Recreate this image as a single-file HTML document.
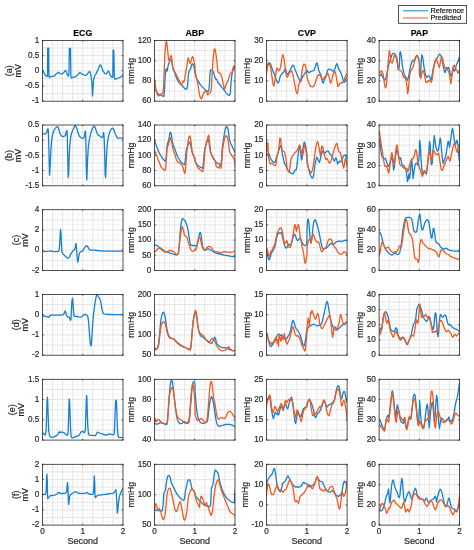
<!DOCTYPE html>
<html><head><meta charset="utf-8"><style>
html,body{margin:0;padding:0;background:#fff;}
svg{display:block;}
</style></head><body>
<svg width="474" height="550" viewBox="0 0 474 550" font-family='"Liberation Sans", Arial, Helvetica, sans-serif'>
<rect width="474" height="550" fill="#fff"/>
<defs><clipPath id="ca0"><rect x="42.5" y="40.40" width="80.5" height="60.8"/></clipPath><clipPath id="ca1"><rect x="154.5" y="40.40" width="80.5" height="60.8"/></clipPath><clipPath id="ca2"><rect x="266.6" y="40.40" width="80.5" height="60.8"/></clipPath><clipPath id="ca3"><rect x="379.1" y="40.40" width="80.5" height="60.8"/></clipPath><clipPath id="cb0"><rect x="42.5" y="125.00" width="80.5" height="60.8"/></clipPath><clipPath id="cb1"><rect x="154.5" y="125.00" width="80.5" height="60.8"/></clipPath><clipPath id="cb2"><rect x="266.6" y="125.00" width="80.5" height="60.8"/></clipPath><clipPath id="cb3"><rect x="379.1" y="125.00" width="80.5" height="60.8"/></clipPath><clipPath id="cc0"><rect x="42.5" y="209.70" width="80.5" height="60.8"/></clipPath><clipPath id="cc1"><rect x="154.5" y="209.70" width="80.5" height="60.8"/></clipPath><clipPath id="cc2"><rect x="266.6" y="209.70" width="80.5" height="60.8"/></clipPath><clipPath id="cc3"><rect x="379.1" y="209.70" width="80.5" height="60.8"/></clipPath><clipPath id="cd0"><rect x="42.5" y="294.40" width="80.5" height="60.8"/></clipPath><clipPath id="cd1"><rect x="154.5" y="294.40" width="80.5" height="60.8"/></clipPath><clipPath id="cd2"><rect x="266.6" y="294.40" width="80.5" height="60.8"/></clipPath><clipPath id="cd3"><rect x="379.1" y="294.40" width="80.5" height="60.8"/></clipPath><clipPath id="ce0"><rect x="42.5" y="379.30" width="80.5" height="60.8"/></clipPath><clipPath id="ce1"><rect x="154.5" y="379.30" width="80.5" height="60.8"/></clipPath><clipPath id="ce2"><rect x="266.6" y="379.30" width="80.5" height="60.8"/></clipPath><clipPath id="ce3"><rect x="379.1" y="379.30" width="80.5" height="60.8"/></clipPath><clipPath id="cf0"><rect x="42.5" y="464.30" width="80.5" height="60.8"/></clipPath><clipPath id="cf1"><rect x="154.5" y="464.30" width="80.5" height="60.8"/></clipPath><clipPath id="cf2"><rect x="266.6" y="464.30" width="80.5" height="60.8"/></clipPath><clipPath id="cf3"><rect x="379.1" y="464.30" width="80.5" height="60.8"/></clipPath></defs>
<style>text{stroke:#262626;stroke-width:0.18px;}</style>
<path d="M47.53 40.40V101.20M57.59 40.40V101.20M67.66 40.40V101.20M77.72 40.40V101.20M87.78 40.40V101.20M97.84 40.40V101.20M107.91 40.40V101.20M117.97 40.40V101.20M42.50 97.40H123.00M42.50 89.80H123.00M42.50 82.20H123.00M42.50 74.60H123.00M42.50 67.00H123.00M42.50 59.40H123.00M42.50 51.80H123.00M42.50 44.20H123.00" stroke="#e2e2e2" stroke-width="0.6" stroke-dasharray="0.8 0.8" fill="none"/>
<path d="M52.56 40.40V101.20M62.62 40.40V101.20M72.69 40.40V101.20M82.75 40.40V101.20M92.81 40.40V101.20M102.88 40.40V101.20M112.94 40.40V101.20M42.50 93.60H123.00M42.50 86.00H123.00M42.50 78.40H123.00M42.50 70.80H123.00M42.50 63.20H123.00M42.50 55.60H123.00M42.50 48.00H123.00" stroke="#dadada" stroke-width="0.7" fill="none"/>
<polyline points="42.7,71.0 43.6,71.8 44.5,73.9 45.6,75.7 47.0,76.5 47.5,76.2 47.7,48.1 48.7,48.1 48.9,76.2 49.4,77.4 50.9,76.5 52.6,76.2 54.4,76.0 56.1,73.9 57.9,72.5 59.0,72.7 60.2,73.7 61.9,73.9 63.7,72.7 64.8,71.0 65.6,70.4 66.3,71.6 67.1,74.5 68.3,76.2 68.9,73.9 69.4,48.3 70.5,48.3 70.9,76.2 71.4,78.0 72.4,77.4 74.1,76.8 75.9,76.5 77.6,75.1 79.1,73.3 79.9,72.5 81.1,73.3 82.3,74.5 83.0,74.7 83.0,74.4 83.2,74.5 84.9,75.3 86.6,75.1 88.4,72.7 89.6,71.3 90.4,72.7 91.1,76.2 91.9,83.2 92.5,96.0 93.0,87.9 93.6,79.7 94.6,76.2 95.9,73.9 97.7,70.4 98.9,67.5 100.0,64.8 100.8,65.2 101.8,67.5 102.7,70.4 103.8,72.2 105.0,73.7 106.4,73.9 107.6,72.2 108.5,71.0 109.3,72.7 110.5,75.7 112.0,77.4 112.8,76.8 113.1,50.1 113.8,50.1 114.3,77.4 114.8,79.1 115.7,79.1 116.9,78.6 118.6,78.0 120.4,77.2 122.1,76.0 122.9,74.5" stroke="#1580D2" stroke-width="1.3" fill="none" stroke-linejoin="round" clip-path="url(#ca0)"/>
<path d="M42.50 101.20h1.3M123.00 101.20h-1.3M42.50 86.00h1.3M123.00 86.00h-1.3M42.50 70.80h1.3M123.00 70.80h-1.3M42.50 55.60h1.3M123.00 55.60h-1.3M42.50 40.40h1.3M123.00 40.40h-1.3M42.50 101.20v-1.3M42.50 40.40v1.3M82.75 101.20v-1.3M82.75 40.40v1.3M123.00 101.20v-1.3M123.00 40.40v1.3" stroke="#262626" stroke-width="0.8" fill="none"/>
<rect x="42.5" y="40.40" width="80.5" height="60.8" fill="none" stroke="#262626" stroke-width="0.8"/>
<text x="39.30" y="103.45" font-size="8.2" fill="#262626" text-anchor="end">-1</text>
<text x="39.30" y="88.25" font-size="8.2" fill="#262626" text-anchor="end">-0.5</text>
<text x="39.30" y="73.05" font-size="8.2" fill="#262626" text-anchor="end">0</text>
<text x="39.30" y="57.85" font-size="8.2" fill="#262626" text-anchor="end">0.5</text>
<text x="39.30" y="42.65" font-size="8.2" fill="#262626" text-anchor="end">1</text>
<text transform="translate(12.37,70.80) rotate(-90)" font-size="9" fill="#262626" text-anchor="middle">(a)</text>
<text transform="translate(21.37,70.80) rotate(-90)" font-size="9" fill="#262626" text-anchor="middle">mV</text>
<text x="82.75" y="35.60" font-size="8.8" font-weight="bold" fill="#000" text-anchor="middle">ECG</text>
<path d="M159.53 40.40V101.20M169.59 40.40V101.20M179.66 40.40V101.20M189.72 40.40V101.20M199.78 40.40V101.20M209.84 40.40V101.20M219.91 40.40V101.20M229.97 40.40V101.20M154.50 96.13H235.00M154.50 86.00H235.00M154.50 75.87H235.00M154.50 65.73H235.00M154.50 55.60H235.00M154.50 45.47H235.00" stroke="#e2e2e2" stroke-width="0.6" stroke-dasharray="0.8 0.8" fill="none"/>
<path d="M164.56 40.40V101.20M174.62 40.40V101.20M184.69 40.40V101.20M194.75 40.40V101.20M204.81 40.40V101.20M214.88 40.40V101.20M224.94 40.40V101.20M154.50 91.07H235.00M154.50 80.93H235.00M154.50 70.80H235.00M154.50 60.67H235.00M154.50 50.53H235.00" stroke="#dadada" stroke-width="0.7" fill="none"/>
<polyline points="154.4,88.5 155.3,90.2 156.5,91.9 157.6,93.7 159.4,94.6 161.1,95.1 162.9,96.3 164.0,96.0 164.6,87.9 165.2,76.2 165.8,69.8 166.7,68.7 167.2,71.0 167.9,66.9 168.7,63.4 169.9,60.5 171.0,59.4 171.8,61.7 172.5,66.9 173.3,69.8 174.2,71.0 175.1,73.9 176.0,76.8 176.8,78.6 178.0,80.9 179.1,82.6 180.3,83.8 181.8,85.5 183.2,86.7 184.6,88.5 185.8,89.3 186.9,88.8 187.6,85.5 188.1,77.4 189.0,71.0 190.0,69.8 190.8,68.1 191.9,64.0 192.7,63.7 193.7,65.8 194.6,70.4 195.0,72.7 195.0,73.0 195.7,76.2 196.9,79.1 198.1,80.9 199.8,83.8 201.6,86.1 203.3,87.9 205.0,89.6 206.8,90.8 208.2,91.9 208.9,90.2 209.5,83.2 210.0,73.9 210.5,69.8 211.4,69.8 212.4,70.4 213.2,71.6 214.0,73.9 214.9,77.4 215.8,79.1 216.7,79.1 217.8,82.1 219.0,83.8 220.5,85.5 221.9,87.3 223.3,89.0 224.8,90.8 226.3,93.1 227.7,94.6 229.4,95.4 230.3,93.7 231.0,83.2 231.8,75.1 232.6,71.6 233.5,68.7 234.4,66.9 235.3,66.3" stroke="#1580D2" stroke-width="1.3" fill="none" stroke-linejoin="round" clip-path="url(#ca1)"/>
<polyline points="154.4,78.0 155.1,83.2 155.9,89.0 157.1,93.7 158.2,96.0 159.4,95.4 160.6,94.3 161.7,93.5 162.9,93.7 163.7,85.5 164.3,68.1 164.9,54.1 165.6,46.0 166.2,41.3 166.7,41.9 167.2,46.0 167.9,53.0 168.7,59.9 169.5,61.1 170.2,58.2 171.0,55.3 171.6,56.5 172.2,62.3 173.0,68.1 173.9,70.4 174.8,72.2 176.0,73.9 176.8,76.2 177.6,77.4 178.8,79.7 180.0,82.1 181.1,85.0 182.1,83.8 183.0,80.9 183.8,82.1 184.6,79.7 185.5,73.9 186.5,68.1 187.3,62.3 188.1,57.6 189.0,60.5 190.0,63.4 190.8,62.3 191.6,58.8 192.5,56.5 193.4,58.2 194.3,62.3 195.0,66.0 195.0,69.4 195.4,72.7 196.3,77.4 197.3,80.9 198.1,85.5 198.9,91.4 199.8,96.0 200.7,98.3 201.6,98.9 202.4,96.6 203.3,93.7 204.5,91.9 205.6,90.8 206.8,92.5 207.7,94.9 208.5,94.3 209.7,93.1 210.9,91.9 211.4,89.0 212.0,77.4 212.6,65.8 213.2,57.6 213.8,51.8 214.3,48.9 215.2,49.5 216.1,55.3 217.0,62.3 217.6,69.8 218.4,72.7 219.6,73.0 220.7,73.9 221.9,77.4 223.1,83.2 224.0,87.3 224.8,89.0 226.0,85.0 227.1,82.6 228.3,80.3 229.4,76.2 230.3,73.3 231.2,72.7 232.1,72.2 232.9,68.7 233.7,65.8 234.7,67.5 235.3,69.8" stroke="#F05A1E" stroke-width="1.3" fill="none" stroke-linejoin="round" clip-path="url(#ca1)"/>
<path d="M154.50 101.20h1.3M235.00 101.20h-1.3M154.50 80.93h1.3M235.00 80.93h-1.3M154.50 60.67h1.3M235.00 60.67h-1.3M154.50 40.40h1.3M235.00 40.40h-1.3M154.50 101.20v-1.3M154.50 40.40v1.3M194.75 101.20v-1.3M194.75 40.40v1.3M235.00 101.20v-1.3M235.00 40.40v1.3" stroke="#262626" stroke-width="0.8" fill="none"/>
<rect x="154.5" y="40.40" width="80.5" height="60.8" fill="none" stroke="#262626" stroke-width="0.8"/>
<text x="151.30" y="103.45" font-size="8.2" fill="#262626" text-anchor="end">60</text>
<text x="151.30" y="83.18" font-size="8.2" fill="#262626" text-anchor="end">80</text>
<text x="151.30" y="62.92" font-size="8.2" fill="#262626" text-anchor="end">100</text>
<text x="151.30" y="42.65" font-size="8.2" fill="#262626" text-anchor="end">120</text>
<text transform="translate(133.82,70.80) rotate(-90)" font-size="8.75" fill="#262626" text-anchor="middle">mmHg</text>
<text x="194.75" y="35.60" font-size="8.8" font-weight="bold" fill="#000" text-anchor="middle">ABP</text>
<path d="M271.63 40.40V101.20M281.69 40.40V101.20M291.76 40.40V101.20M301.82 40.40V101.20M311.88 40.40V101.20M321.94 40.40V101.20M332.01 40.40V101.20M342.07 40.40V101.20M266.60 96.13H347.10M266.60 86.00H347.10M266.60 75.87H347.10M266.60 65.73H347.10M266.60 55.60H347.10M266.60 45.47H347.10" stroke="#e2e2e2" stroke-width="0.6" stroke-dasharray="0.8 0.8" fill="none"/>
<path d="M276.66 40.40V101.20M286.73 40.40V101.20M296.79 40.40V101.20M306.85 40.40V101.20M316.91 40.40V101.20M326.98 40.40V101.20M337.04 40.40V101.20M266.60 91.07H347.10M266.60 80.93H347.10M266.60 70.80H347.10M266.60 60.67H347.10M266.60 50.53H347.10" stroke="#dadada" stroke-width="0.7" fill="none"/>
<polyline points="266.4,66.9 267.3,64.6 268.5,62.9 269.9,62.9 270.8,64.6 272.0,68.1 273.1,71.6 274.3,73.9 275.5,77.4 276.6,80.9 277.8,83.0 278.7,82.6 279.5,79.1 280.3,76.2 281.3,74.5 282.4,73.3 283.6,72.2 284.5,70.4 285.3,68.7 285.9,70.4 286.8,73.9 287.7,74.5 288.5,73.3 289.4,71.6 290.6,69.3 291.7,66.9 292.9,65.2 293.8,65.8 294.6,68.1 295.4,70.4 296.4,72.7 297.5,75.7 298.7,78.6 299.9,80.9 300.8,81.5 301.6,79.1 302.4,77.4 303.4,75.7 304.5,73.9 305.7,72.2 306.8,70.4 307.0,70.3 307.0,70.8 307.2,71.0 308.3,72.2 309.5,72.7 310.6,71.6 312.4,71.0 313.9,70.4 315.1,67.5 316.2,64.0 317.0,62.9 317.9,65.8 318.8,70.4 319.7,72.7 320.9,74.5 321.7,78.6 322.5,82.1 323.2,83.0 324.0,80.9 325.2,78.0 326.3,75.1 327.2,71.6 328.1,69.5 329.2,69.0 330.4,69.5 331.8,70.2 333.0,71.0 333.9,71.0 334.8,69.3 335.8,65.8 336.7,63.7 337.4,64.6 338.3,68.1 339.5,70.4 340.6,72.2 341.8,75.1 343.0,79.7 343.9,82.6 344.9,81.5 345.7,79.1 346.7,78.0 347.3,77.4" stroke="#1580D2" stroke-width="1.3" fill="none" stroke-linejoin="round" clip-path="url(#ca2)"/>
<polyline points="266.4,73.9 267.1,69.8 267.9,65.8 268.8,63.4 269.6,64.0 270.5,66.9 271.4,72.7 272.2,78.6 273.1,84.4 273.8,86.1 274.5,83.2 275.2,78.6 276.0,72.7 276.6,68.7 277.4,68.1 278.1,69.8 278.9,71.0 279.9,69.3 280.7,66.3 281.5,61.1 282.2,55.9 283.0,54.7 283.8,57.6 284.5,62.3 285.3,69.3 286.2,75.1 287.1,77.4 288.0,76.2 288.9,73.9 290.0,72.2 291.1,71.0 292.0,71.6 292.7,73.9 293.5,77.4 294.3,82.1 295.2,86.7 296.1,91.4 297.1,93.7 297.8,91.9 298.5,85.5 299.3,83.2 300.1,82.6 301.0,78.6 302.0,71.6 302.9,66.3 303.9,64.0 305.1,64.6 305.9,67.5 306.8,73.9 307.0,75.4 307.0,76.5 307.7,79.7 308.9,83.2 310.1,85.5 311.2,86.7 312.7,86.9 313.9,86.1 315.1,83.2 316.2,79.7 317.4,76.2 318.6,74.5 319.7,75.1 320.9,76.8 322.0,79.1 322.9,79.7 323.7,78.6 324.6,76.8 325.5,76.2 326.7,75.1 327.8,73.3 328.7,75.1 329.5,78.6 330.4,83.2 331.0,82.6 331.8,80.3 332.7,76.2 333.7,72.7 334.5,71.0 335.3,72.2 336.2,76.2 337.1,82.1 338.0,86.7 338.8,85.5 339.7,83.8 340.9,82.6 342.0,83.2 343.2,81.5 344.4,79.1 345.5,76.2 346.7,73.9 347.3,73.3" stroke="#F05A1E" stroke-width="1.3" fill="none" stroke-linejoin="round" clip-path="url(#ca2)"/>
<path d="M266.60 101.20h1.3M347.10 101.20h-1.3M266.60 80.93h1.3M347.10 80.93h-1.3M266.60 60.67h1.3M347.10 60.67h-1.3M266.60 40.40h1.3M347.10 40.40h-1.3M266.60 101.20v-1.3M266.60 40.40v1.3M306.85 101.20v-1.3M306.85 40.40v1.3M347.10 101.20v-1.3M347.10 40.40v1.3" stroke="#262626" stroke-width="0.8" fill="none"/>
<rect x="266.6" y="40.40" width="80.5" height="60.8" fill="none" stroke="#262626" stroke-width="0.8"/>
<text x="263.40" y="103.45" font-size="8.2" fill="#262626" text-anchor="end">0</text>
<text x="263.40" y="83.18" font-size="8.2" fill="#262626" text-anchor="end">10</text>
<text x="263.40" y="62.92" font-size="8.2" fill="#262626" text-anchor="end">20</text>
<text x="263.40" y="42.65" font-size="8.2" fill="#262626" text-anchor="end">30</text>
<text transform="translate(250.48,70.80) rotate(-90)" font-size="8.75" fill="#262626" text-anchor="middle">mmHg</text>
<text x="306.85" y="35.60" font-size="8.8" font-weight="bold" fill="#000" text-anchor="middle">CVP</text>
<path d="M384.13 40.40V101.20M394.19 40.40V101.20M404.26 40.40V101.20M414.32 40.40V101.20M424.38 40.40V101.20M434.44 40.40V101.20M444.51 40.40V101.20M454.57 40.40V101.20M379.10 96.13H459.60M379.10 86.00H459.60M379.10 75.87H459.60M379.10 65.73H459.60M379.10 55.60H459.60M379.10 45.47H459.60" stroke="#e2e2e2" stroke-width="0.6" stroke-dasharray="0.8 0.8" fill="none"/>
<path d="M389.16 40.40V101.20M399.23 40.40V101.20M409.29 40.40V101.20M419.35 40.40V101.20M429.41 40.40V101.20M439.48 40.40V101.20M449.54 40.40V101.20M379.10 91.07H459.60M379.10 80.93H459.60M379.10 70.80H459.60M379.10 60.67H459.60M379.10 50.53H459.60" stroke="#dadada" stroke-width="0.7" fill="none"/>
<polyline points="379.4,76.2 380.3,75.7 381.3,73.9 382.1,75.7 382.9,77.4 383.8,79.1 384.7,80.3 385.6,79.1 386.4,76.2 387.3,71.6 388.2,66.9 389.0,63.4 389.9,60.5 390.8,58.2 391.7,55.3 392.9,53.5 394.0,53.5 395.2,54.1 396.0,56.5 396.8,60.5 397.8,65.8 398.3,69.3 398.9,68.7 399.5,63.4 399.8,54.1 400.3,51.6 401.0,54.1 401.8,59.9 402.4,65.8 403.3,70.4 404.1,73.9 405.0,76.2 405.9,77.4 406.8,78.6 407.6,80.3 408.4,77.4 409.4,72.2 410.5,66.3 411.7,62.3 412.6,60.5 413.4,61.1 414.6,59.4 415.8,57.0 416.7,55.3 417.5,55.9 418.4,58.2 419.3,62.3 419.5,64.0 419.5,74.5 419.7,76.2 420.6,73.9 421.3,59.9 421.8,54.7 422.6,56.5 423.2,61.1 424.0,66.9 425.0,72.7 425.9,76.2 426.8,77.4 427.8,76.2 428.7,75.7 429.6,76.2 430.3,78.0 431.0,80.3 431.7,78.6 432.5,72.7 433.3,68.1 434.3,64.0 435.2,61.1 436.1,59.4 437.1,58.2 438.0,56.5 438.9,54.7 439.8,54.1 440.8,55.3 441.7,58.2 442.4,61.7 443.3,65.8 444.1,70.4 445.0,72.7 445.9,69.8 446.8,67.5 447.8,68.1 448.7,67.5 449.6,70.4 450.5,75.1 451.5,76.2 452.4,72.7 453.3,68.1 454.3,71.0 455.2,70.4 456.1,65.8 457.0,63.4 458.0,61.7 458.9,58.8 459.6,56.5" stroke="#1580D2" stroke-width="1.3" fill="none" stroke-linejoin="round" clip-path="url(#ca3)"/>
<polyline points="379.4,73.3 380.3,72.2 381.3,71.0 382.1,71.6 382.9,73.3 383.6,77.4 384.4,83.2 385.2,87.3 385.9,87.9 386.6,83.2 387.3,73.9 388.0,64.6 388.7,55.3 389.4,50.6 390.1,54.1 390.8,61.1 391.7,62.9 392.5,62.9 393.3,59.4 394.3,55.3 395.2,56.5 396.0,55.9 396.8,57.0 397.8,64.6 398.3,69.3 399.2,70.4 400.1,70.4 401.2,71.0 402.2,72.7 403.0,76.2 403.8,77.4 404.7,77.4 405.7,79.1 406.5,82.6 407.1,87.9 407.6,93.7 408.2,91.4 408.8,84.4 409.6,76.2 410.5,71.0 411.7,69.8 412.6,68.1 413.4,65.8 414.3,62.3 415.2,59.4 416.1,56.5 416.9,55.9 417.7,57.0 418.7,59.4 419.5,61.9 419.5,71.3 420.1,76.2 420.8,78.6 421.5,75.1 422.4,71.6 423.2,70.4 424.0,72.7 425.0,77.4 425.9,82.1 426.8,82.6 427.8,80.9 428.7,81.5 429.6,80.3 430.6,81.5 431.5,82.1 432.4,77.4 433.3,70.4 434.3,65.2 435.2,61.1 436.1,58.8 437.1,60.5 438.0,64.0 438.9,66.3 439.5,67.5 440.3,62.3 441.0,58.8 441.8,56.5 442.6,58.2 443.6,63.4 444.5,66.9 445.4,68.1 446.5,68.7 447.6,69.8 448.4,71.0 449.4,73.9 450.1,79.1 450.8,83.8 451.5,79.7 452.4,71.6 453.3,65.8 454.3,65.2 455.2,68.1 456.1,69.3 457.0,70.4 458.0,73.3 458.9,71.6 459.6,69.8" stroke="#F05A1E" stroke-width="1.3" fill="none" stroke-linejoin="round" clip-path="url(#ca3)"/>
<path d="M379.10 101.20h1.3M459.60 101.20h-1.3M379.10 80.93h1.3M459.60 80.93h-1.3M379.10 60.67h1.3M459.60 60.67h-1.3M379.10 40.40h1.3M459.60 40.40h-1.3M379.10 101.20v-1.3M379.10 40.40v1.3M419.35 101.20v-1.3M419.35 40.40v1.3M459.60 101.20v-1.3M459.60 40.40v1.3" stroke="#262626" stroke-width="0.8" fill="none"/>
<rect x="379.1" y="40.40" width="80.5" height="60.8" fill="none" stroke="#262626" stroke-width="0.8"/>
<text x="375.90" y="103.45" font-size="8.2" fill="#262626" text-anchor="end">10</text>
<text x="375.90" y="83.18" font-size="8.2" fill="#262626" text-anchor="end">20</text>
<text x="375.90" y="62.92" font-size="8.2" fill="#262626" text-anchor="end">30</text>
<text x="375.90" y="42.65" font-size="8.2" fill="#262626" text-anchor="end">40</text>
<text transform="translate(362.98,70.80) rotate(-90)" font-size="8.75" fill="#262626" text-anchor="middle">mmHg</text>
<text x="419.35" y="35.60" font-size="8.8" font-weight="bold" fill="#000" text-anchor="middle">PAP</text>
<path d="M47.53 125.00V185.80M57.59 125.00V185.80M67.66 125.00V185.80M77.72 125.00V185.80M87.78 125.00V185.80M97.84 125.00V185.80M107.91 125.00V185.80M117.97 125.00V185.80M42.50 182.00H123.00M42.50 174.40H123.00M42.50 166.80H123.00M42.50 159.20H123.00M42.50 151.60H123.00M42.50 144.00H123.00M42.50 136.40H123.00M42.50 128.80H123.00" stroke="#e2e2e2" stroke-width="0.6" stroke-dasharray="0.8 0.8" fill="none"/>
<path d="M52.56 125.00V185.80M62.62 125.00V185.80M72.69 125.00V185.80M82.75 125.00V185.80M92.81 125.00V185.80M102.88 125.00V185.80M112.94 125.00V185.80M42.50 178.20H123.00M42.50 170.60H123.00M42.50 163.00H123.00M42.50 155.40H123.00M42.50 147.80H123.00M42.50 140.20H123.00M42.50 132.60H123.00" stroke="#dadada" stroke-width="0.7" fill="none"/>
<polyline points="42.4,133.3 43.3,133.9 44.5,134.2 45.6,133.9 46.6,132.7 47.4,129.8 48.0,128.7 48.3,130.4 48.7,141.5 49.1,158.9 49.5,175.2 49.8,172.9 50.3,162.4 50.9,149.6 51.7,140.3 52.6,134.5 53.8,131.0 54.9,128.7 56.1,127.3 57.3,126.6 58.2,127.3 59.0,129.8 59.8,132.7 60.8,135.1 61.9,136.2 63.1,136.6 64.2,136.2 65.4,135.6 66.3,131.6 66.8,130.4 67.3,135.6 67.7,156.6 68.2,177.5 68.7,172.9 69.1,158.9 69.8,144.9 70.6,138.0 71.4,133.9 72.4,131.0 73.5,128.7 74.7,126.1 75.6,125.7 76.4,127.5 77.3,129.8 78.2,133.3 79.4,136.2 80.5,137.4 81.7,138.0 82.8,138.5 83.0,138.5 83.0,138.2 83.2,138.2 84.1,137.4 84.8,133.3 85.3,131.0 85.6,133.3 86.0,147.3 86.4,170.5 86.8,179.9 87.1,172.9 87.6,158.9 88.3,147.3 89.2,140.3 90.4,134.5 91.9,129.8 93.0,127.5 94.2,126.3 95.0,126.9 95.9,129.8 97.1,133.3 98.3,135.1 99.4,135.6 100.6,136.8 101.8,137.7 102.9,136.8 103.4,132.7 103.8,133.3 104.3,141.5 104.8,158.9 105.2,175.2 105.6,177.5 105.9,170.5 106.4,158.9 107.0,147.3 107.8,140.3 108.7,135.6 109.9,131.6 111.1,129.2 112.2,128.1 113.1,128.7 114.1,130.4 115.1,133.3 116.3,136.2 117.4,138.0 118.6,138.2 120.4,138.2 122.1,138.2 122.9,138.2" stroke="#1580D2" stroke-width="1.3" fill="none" stroke-linejoin="round" clip-path="url(#cb0)"/>
<path d="M42.50 185.80h1.3M123.00 185.80h-1.3M42.50 170.60h1.3M123.00 170.60h-1.3M42.50 155.40h1.3M123.00 155.40h-1.3M42.50 140.20h1.3M123.00 140.20h-1.3M42.50 125.00h1.3M123.00 125.00h-1.3M42.50 185.80v-1.3M42.50 125.00v1.3M82.75 185.80v-1.3M82.75 125.00v1.3M123.00 185.80v-1.3M123.00 125.00v1.3" stroke="#262626" stroke-width="0.8" fill="none"/>
<rect x="42.5" y="125.00" width="80.5" height="60.8" fill="none" stroke="#262626" stroke-width="0.8"/>
<text x="39.30" y="188.05" font-size="8.2" fill="#262626" text-anchor="end">-1.5</text>
<text x="39.30" y="172.85" font-size="8.2" fill="#262626" text-anchor="end">-1</text>
<text x="39.30" y="157.65" font-size="8.2" fill="#262626" text-anchor="end">-0.5</text>
<text x="39.30" y="142.45" font-size="8.2" fill="#262626" text-anchor="end">0</text>
<text x="39.30" y="127.25" font-size="8.2" fill="#262626" text-anchor="end">0.5</text>
<text transform="translate(12.37,155.40) rotate(-90)" font-size="9" fill="#262626" text-anchor="middle">(b)</text>
<text transform="translate(21.37,155.40) rotate(-90)" font-size="9" fill="#262626" text-anchor="middle">mV</text>
<path d="M159.53 125.00V185.80M169.59 125.00V185.80M179.66 125.00V185.80M189.72 125.00V185.80M199.78 125.00V185.80M209.84 125.00V185.80M219.91 125.00V185.80M229.97 125.00V185.80M154.50 182.00H235.00M154.50 174.40H235.00M154.50 166.80H235.00M154.50 159.20H235.00M154.50 151.60H235.00M154.50 144.00H235.00M154.50 136.40H235.00M154.50 128.80H235.00" stroke="#e2e2e2" stroke-width="0.6" stroke-dasharray="0.8 0.8" fill="none"/>
<path d="M164.56 125.00V185.80M174.62 125.00V185.80M184.69 125.00V185.80M194.75 125.00V185.80M204.81 125.00V185.80M214.88 125.00V185.80M224.94 125.00V185.80M154.50 178.20H235.00M154.50 170.60H235.00M154.50 163.00H235.00M154.50 155.40H235.00M154.50 147.80H235.00M154.50 140.20H235.00M154.50 132.60H235.00" stroke="#dadada" stroke-width="0.7" fill="none"/>
<polyline points="154.4,139.1 155.3,142.6 156.5,146.1 157.6,149.0 158.8,151.9 160.0,154.3 161.4,156.6 162.9,158.9 164.6,160.7 165.8,161.2 166.4,155.4 166.9,147.3 167.5,143.8 168.3,141.5 169.3,136.8 170.0,132.7 170.7,132.4 171.4,134.5 172.2,140.3 173.0,144.4 173.9,146.7 175.1,149.6 176.2,153.1 177.4,156.0 178.6,158.3 179.7,160.1 180.9,161.8 182.1,163.0 183.4,164.1 184.6,164.5 185.3,161.2 186.0,153.1 186.7,148.4 187.6,146.1 188.4,144.4 189.3,142.0 190.2,142.6 191.1,147.3 192.0,151.9 193.1,154.8 194.3,157.2 195.0,158.3 195.0,160.8 195.2,161.2 196.3,163.6 197.5,165.3 199.2,166.5 201.0,167.6 202.7,168.2 203.5,162.4 204.2,153.1 205.0,148.4 206.2,144.4 207.4,140.3 208.2,139.1 208.9,141.5 209.7,147.3 210.5,151.9 211.4,154.3 212.6,156.6 213.8,158.9 214.9,160.7 216.3,162.4 217.8,163.6 219.3,164.1 221.0,164.1 221.7,158.9 222.1,149.6 222.8,143.8 223.6,139.1 224.4,133.3 225.4,128.7 226.3,126.6 227.2,126.9 228.2,129.8 228.9,135.6 229.6,140.3 230.6,143.2 231.8,145.5 232.9,147.9 234.1,150.8 234.9,152.5" stroke="#1580D2" stroke-width="1.3" fill="none" stroke-linejoin="round" clip-path="url(#cb1)"/>
<polyline points="154.4,150.8 155.1,153.1 155.6,151.9 156.3,154.8 157.1,156.6 157.9,158.9 158.8,161.2 160.0,164.1 161.1,167.1 162.3,168.2 163.5,169.4 164.6,170.5 165.6,170.0 166.0,163.6 166.5,156.6 166.9,149.6 167.6,146.7 168.3,144.9 169.3,141.5 170.0,138.0 170.7,137.4 171.4,140.3 172.2,144.9 173.0,149.0 173.9,151.9 175.1,154.8 176.2,158.9 177.4,161.8 178.6,162.4 179.7,163.0 180.9,164.1 182.1,165.3 183.0,167.1 183.8,170.5 184.6,173.5 185.3,171.7 186.0,162.4 186.7,153.1 187.6,146.1 188.4,139.1 189.3,136.2 190.2,136.2 190.9,140.3 191.6,147.3 192.5,153.1 193.7,156.0 194.8,158.9 195.0,159.2 195.0,160.3 196.1,163.6 197.3,167.1 198.4,168.2 199.8,169.4 201.2,170.5 202.7,171.7 203.5,168.2 204.2,158.9 205.0,149.6 205.9,144.9 206.8,141.5 207.7,138.0 208.5,135.1 209.1,136.8 209.7,143.8 210.5,151.9 211.4,154.3 212.4,156.6 213.5,158.9 214.7,160.1 215.5,162.4 216.1,165.9 217.0,167.1 218.2,167.6 219.0,168.2 219.8,165.3 220.5,164.1 221.2,168.2 221.9,158.9 222.6,149.6 223.3,144.4 224.2,140.3 225.1,137.4 226.1,135.6 227.0,136.2 227.9,139.1 228.9,146.1 229.6,151.9 230.6,153.7 231.8,155.4 232.9,157.2 234.1,158.9 234.9,162.4 235.3,167.1" stroke="#F05A1E" stroke-width="1.3" fill="none" stroke-linejoin="round" clip-path="url(#cb1)"/>
<path d="M154.50 185.80h1.3M235.00 185.80h-1.3M154.50 170.60h1.3M235.00 170.60h-1.3M154.50 155.40h1.3M235.00 155.40h-1.3M154.50 140.20h1.3M235.00 140.20h-1.3M154.50 125.00h1.3M235.00 125.00h-1.3M154.50 185.80v-1.3M154.50 125.00v1.3M194.75 185.80v-1.3M194.75 125.00v1.3M235.00 185.80v-1.3M235.00 125.00v1.3" stroke="#262626" stroke-width="0.8" fill="none"/>
<rect x="154.5" y="125.00" width="80.5" height="60.8" fill="none" stroke="#262626" stroke-width="0.8"/>
<text x="151.30" y="188.05" font-size="8.2" fill="#262626" text-anchor="end">60</text>
<text x="151.30" y="172.85" font-size="8.2" fill="#262626" text-anchor="end">80</text>
<text x="151.30" y="157.65" font-size="8.2" fill="#262626" text-anchor="end">100</text>
<text x="151.30" y="142.45" font-size="8.2" fill="#262626" text-anchor="end">120</text>
<text x="151.30" y="127.25" font-size="8.2" fill="#262626" text-anchor="end">140</text>
<text transform="translate(133.82,155.40) rotate(-90)" font-size="8.75" fill="#262626" text-anchor="middle">mmHg</text>
<path d="M271.63 125.00V185.80M281.69 125.00V185.80M291.76 125.00V185.80M301.82 125.00V185.80M311.88 125.00V185.80M321.94 125.00V185.80M332.01 125.00V185.80M342.07 125.00V185.80M266.60 182.00H347.10M266.60 174.40H347.10M266.60 166.80H347.10M266.60 159.20H347.10M266.60 151.60H347.10M266.60 144.00H347.10M266.60 136.40H347.10M266.60 128.80H347.10" stroke="#e2e2e2" stroke-width="0.6" stroke-dasharray="0.8 0.8" fill="none"/>
<path d="M276.66 125.00V185.80M286.73 125.00V185.80M296.79 125.00V185.80M306.85 125.00V185.80M316.91 125.00V185.80M326.98 125.00V185.80M337.04 125.00V185.80M266.60 178.20H347.10M266.60 170.60H347.10M266.60 163.00H347.10M266.60 155.40H347.10M266.60 147.80H347.10M266.60 140.20H347.10M266.60 132.60H347.10" stroke="#dadada" stroke-width="0.7" fill="none"/>
<polyline points="266.4,155.4 267.3,153.7 268.5,153.1 269.4,154.8 270.2,157.7 271.4,160.1 272.6,161.2 273.7,162.4 274.9,162.4 275.7,160.1 276.6,156.6 277.6,154.3 278.4,151.9 279.2,149.0 280.1,146.1 280.8,145.5 281.5,148.4 282.4,154.3 283.4,158.9 284.2,162.4 285.0,164.1 285.9,165.9 286.8,168.2 287.7,170.0 288.8,171.7 290.0,172.3 291.1,173.5 292.3,174.0 293.5,172.9 294.6,171.1 295.4,170.0 296.1,170.0 296.8,167.1 297.5,161.2 298.2,154.3 298.9,149.0 299.6,145.5 300.3,147.3 300.8,154.3 301.5,160.1 302.2,157.7 302.9,149.6 303.6,144.4 304.3,142.0 305.1,143.8 305.9,147.3 306.8,153.1 307.0,154.4 307.0,159.6 307.2,161.2 308.1,167.1 309.3,171.7 310.4,175.2 311.6,177.5 312.5,178.1 313.4,176.4 314.1,171.7 314.8,165.9 315.8,160.1 316.7,157.2 317.6,158.3 318.6,161.2 319.5,162.4 320.4,158.9 321.3,154.3 322.3,150.8 323.2,151.9 324.1,153.7 325.1,153.1 326.0,151.9 326.9,151.3 327.8,150.8 328.8,151.9 329.7,153.7 330.6,154.8 331.6,155.4 332.5,157.2 333.4,159.5 334.4,161.2 335.3,158.9 336.0,157.7 336.8,160.1 337.6,164.1 338.5,162.4 339.7,161.2 340.9,161.8 342.0,159.5 343.2,156.6 344.4,154.8 345.5,155.4 346.4,157.2 347.3,158.9" stroke="#1580D2" stroke-width="1.3" fill="none" stroke-linejoin="round" clip-path="url(#cb2)"/>
<polyline points="266.4,142.0 266.9,147.3 267.3,150.8 267.8,142.6 268.3,151.9 268.7,157.7 269.4,161.2 270.2,164.1 271.0,163.6 272.0,163.0 273.1,164.1 274.3,165.3 275.5,165.7 276.2,163.6 276.9,157.7 277.6,154.3 278.4,150.8 279.2,144.9 279.9,138.0 280.6,138.5 281.3,144.9 282.0,149.6 282.7,150.8 283.6,151.3 284.5,151.9 285.3,155.4 286.2,160.1 286.8,165.9 287.7,170.5 288.5,171.7 289.4,171.1 290.1,165.9 290.8,160.1 291.5,157.7 292.3,156.0 293.1,155.4 294.1,153.7 295.0,152.5 295.9,151.9 297.0,150.8 297.9,149.0 298.7,147.3 299.6,144.9 300.3,147.3 301.0,150.8 302.0,153.7 302.8,154.8 303.4,151.9 304.0,147.3 304.7,144.9 305.4,147.3 306.1,151.9 306.8,156.6 307.0,157.7 307.0,161.6 307.9,165.9 308.8,169.4 310.0,171.7 311.1,172.9 312.3,170.5 313.2,165.9 314.1,160.1 315.1,151.9 316.0,146.1 316.9,142.6 317.6,141.5 318.3,143.2 319.0,147.3 319.7,151.9 320.4,155.4 321.1,150.8 321.8,146.1 322.5,146.1 323.2,149.0 324.1,153.1 325.1,157.7 326.0,159.5 326.9,158.3 327.8,160.1 328.8,162.4 329.7,163.0 330.6,161.8 331.6,158.9 332.5,155.4 333.4,151.9 334.4,148.4 335.3,146.1 336.2,143.8 336.9,143.2 337.6,146.1 338.3,149.6 339.2,151.9 340.2,152.5 341.1,155.4 342.0,160.1 343.0,165.9 343.7,168.2 344.4,164.7 345.0,160.1 345.7,158.3 346.4,161.2 347.3,167.1" stroke="#F05A1E" stroke-width="1.3" fill="none" stroke-linejoin="round" clip-path="url(#cb2)"/>
<path d="M266.60 185.80h1.3M347.10 185.80h-1.3M266.60 170.60h1.3M347.10 170.60h-1.3M266.60 155.40h1.3M347.10 155.40h-1.3M266.60 140.20h1.3M347.10 140.20h-1.3M266.60 125.00h1.3M347.10 125.00h-1.3M266.60 185.80v-1.3M266.60 125.00v1.3M306.85 185.80v-1.3M306.85 125.00v1.3M347.10 185.80v-1.3M347.10 125.00v1.3" stroke="#262626" stroke-width="0.8" fill="none"/>
<rect x="266.6" y="125.00" width="80.5" height="60.8" fill="none" stroke="#262626" stroke-width="0.8"/>
<text x="263.40" y="188.05" font-size="8.2" fill="#262626" text-anchor="end">0</text>
<text x="263.40" y="172.85" font-size="8.2" fill="#262626" text-anchor="end">5</text>
<text x="263.40" y="157.65" font-size="8.2" fill="#262626" text-anchor="end">10</text>
<text x="263.40" y="142.45" font-size="8.2" fill="#262626" text-anchor="end">15</text>
<text x="263.40" y="127.25" font-size="8.2" fill="#262626" text-anchor="end">20</text>
<text transform="translate(250.48,155.40) rotate(-90)" font-size="8.75" fill="#262626" text-anchor="middle">mmHg</text>
<path d="M384.13 125.00V185.80M394.19 125.00V185.80M404.26 125.00V185.80M414.32 125.00V185.80M424.38 125.00V185.80M434.44 125.00V185.80M444.51 125.00V185.80M454.57 125.00V185.80M379.10 180.73H459.60M379.10 170.60H459.60M379.10 160.47H459.60M379.10 150.33H459.60M379.10 140.20H459.60M379.10 130.07H459.60" stroke="#e2e2e2" stroke-width="0.6" stroke-dasharray="0.8 0.8" fill="none"/>
<path d="M389.16 125.00V185.80M399.23 125.00V185.80M409.29 125.00V185.80M419.35 125.00V185.80M429.41 125.00V185.80M439.48 125.00V185.80M449.54 125.00V185.80M379.10 175.67H459.60M379.10 165.53H459.60M379.10 155.40H459.60M379.10 145.27H459.60M379.10 135.13H459.60" stroke="#dadada" stroke-width="0.7" fill="none"/>
<polyline points="379.4,139.1 380.1,144.9 380.9,150.8 381.7,155.4 382.6,157.7 383.6,158.9 384.5,158.9 385.4,158.3 386.4,161.2 387.3,164.1 388.2,166.5 389.2,165.3 390.1,162.4 391.0,158.9 391.9,157.2 392.9,162.4 393.6,170.0 394.3,167.1 395.2,158.9 396.0,153.1 396.8,149.6 397.5,150.8 398.2,154.3 398.9,157.7 399.8,158.9 400.7,157.7 401.5,162.4 402.4,164.7 403.3,165.3 404.3,166.5 405.2,168.2 406.1,170.5 406.8,175.2 407.5,181.6 408.2,178.7 408.9,174.0 409.6,178.7 410.3,172.9 411.0,164.7 411.7,158.9 412.4,168.2 413.1,178.7 413.8,172.9 414.5,168.2 415.2,164.7 416.1,163.0 417.0,163.6 418.0,165.3 418.9,158.9 419.5,150.0 419.5,143.2 419.7,140.3 420.3,144.9 420.9,156.6 421.7,168.2 422.6,175.2 423.6,172.9 424.5,170.5 425.4,172.9 426.4,174.0 427.3,168.2 428.2,158.9 429.0,149.6 429.6,141.5 430.2,144.9 430.8,157.7 431.4,164.7 432.2,163.6 432.9,153.1 433.7,141.5 434.3,135.6 435.0,140.3 435.7,146.1 436.6,149.6 437.5,151.3 438.5,149.6 439.4,143.8 440.1,138.0 440.8,140.3 441.5,149.6 442.4,158.9 443.1,163.6 443.8,161.2 444.7,158.9 445.7,156.6 446.6,150.8 447.5,144.9 448.2,140.9 448.9,143.8 449.6,147.3 450.5,141.5 451.5,133.3 452.4,128.1 453.1,131.0 453.8,136.8 454.7,142.6 455.7,144.4 456.4,141.5 457.0,140.3 457.7,143.2 458.4,150.8 459.1,158.9 459.8,163.6" stroke="#1580D2" stroke-width="1.3" fill="none" stroke-linejoin="round" clip-path="url(#cb3)"/>
<polyline points="379.4,131.0 379.9,135.6 380.6,140.3 381.3,144.9 382.1,149.6 382.9,155.4 383.8,161.2 384.7,165.9 385.7,166.5 386.6,165.9 387.5,168.2 388.5,172.9 389.2,171.7 389.9,165.9 390.6,160.1 391.4,154.3 391.9,152.5 392.9,157.7 393.6,163.6 394.3,164.1 395.0,158.9 395.7,151.9 396.4,146.1 397.1,144.9 397.8,149.6 398.5,155.4 399.2,161.2 399.8,164.1 400.7,165.3 401.5,165.9 402.4,166.5 403.3,167.6 404.3,168.2 405.2,168.8 406.1,168.2 407.1,168.8 407.8,171.7 408.4,170.5 409.1,167.1 410.0,163.6 410.8,161.2 411.7,158.9 412.6,158.9 413.6,157.7 414.5,154.8 415.2,151.3 415.9,149.6 416.6,151.9 417.3,157.7 418.0,162.4 418.7,164.1 419.4,168.2 419.5,168.9 419.5,167.5 419.7,168.2 420.6,170.5 421.5,174.0 422.4,176.4 423.3,172.9 424.3,170.5 425.2,172.9 426.1,172.9 427.1,168.2 428.0,158.9 428.9,151.9 429.6,151.3 430.3,155.4 431.0,160.1 431.7,161.2 432.4,154.3 433.1,150.2 434.0,150.8 435.0,153.1 435.9,154.3 436.8,154.8 437.8,153.7 438.5,153.1 439.2,156.6 440.1,162.4 441.0,168.2 441.8,170.5 442.6,170.0 443.6,167.1 444.5,164.7 445.4,162.4 446.4,160.1 447.3,157.7 448.2,156.6 449.1,158.9 450.1,161.2 451.0,156.6 451.9,151.9 452.9,147.3 453.8,143.8 454.7,144.9 455.7,147.3 456.6,150.8 457.5,152.5 458.2,149.0 458.9,147.3 459.6,151.9" stroke="#F05A1E" stroke-width="1.3" fill="none" stroke-linejoin="round" clip-path="url(#cb3)"/>
<path d="M379.10 185.80h1.3M459.60 185.80h-1.3M379.10 165.53h1.3M459.60 165.53h-1.3M379.10 145.27h1.3M459.60 145.27h-1.3M379.10 125.00h1.3M459.60 125.00h-1.3M379.10 185.80v-1.3M379.10 125.00v1.3M419.35 185.80v-1.3M419.35 125.00v1.3M459.60 185.80v-1.3M459.60 125.00v1.3" stroke="#262626" stroke-width="0.8" fill="none"/>
<rect x="379.1" y="125.00" width="80.5" height="60.8" fill="none" stroke="#262626" stroke-width="0.8"/>
<text x="375.90" y="188.05" font-size="8.2" fill="#262626" text-anchor="end">10</text>
<text x="375.90" y="167.78" font-size="8.2" fill="#262626" text-anchor="end">20</text>
<text x="375.90" y="147.52" font-size="8.2" fill="#262626" text-anchor="end">30</text>
<text x="375.90" y="127.25" font-size="8.2" fill="#262626" text-anchor="end">40</text>
<text transform="translate(362.98,155.40) rotate(-90)" font-size="8.75" fill="#262626" text-anchor="middle">mmHg</text>
<path d="M47.53 209.70V270.50M57.59 209.70V270.50M67.66 209.70V270.50M77.72 209.70V270.50M87.78 209.70V270.50M97.84 209.70V270.50M107.91 209.70V270.50M117.97 209.70V270.50M42.50 265.43H123.00M42.50 255.30H123.00M42.50 245.17H123.00M42.50 235.03H123.00M42.50 224.90H123.00M42.50 214.77H123.00" stroke="#e2e2e2" stroke-width="0.6" stroke-dasharray="0.8 0.8" fill="none"/>
<path d="M52.56 209.70V270.50M62.62 209.70V270.50M72.69 209.70V270.50M82.75 209.70V270.50M92.81 209.70V270.50M102.88 209.70V270.50M112.94 209.70V270.50M42.50 260.37H123.00M42.50 250.23H123.00M42.50 240.10H123.00M42.50 229.97H123.00M42.50 219.83H123.00" stroke="#dadada" stroke-width="0.7" fill="none"/>
<polyline points="42.4,251.3 44.5,251.6 46.8,251.3 49.1,251.1 50.9,250.8 52.6,251.3 54.9,251.6 57.3,251.6 59.0,251.1 59.6,245.2 60.1,235.9 60.5,229.5 61.0,233.6 61.5,245.2 61.9,252.2 63.1,254.0 64.2,255.1 65.4,256.3 66.6,257.5 67.7,258.3 68.7,258.0 69.5,256.9 70.3,255.1 71.2,253.4 72.4,251.6 73.5,250.5 74.7,249.3 75.4,246.4 75.9,243.5 76.3,245.2 76.8,252.2 77.3,259.2 77.7,262.1 78.2,260.9 78.9,255.7 79.6,252.8 80.5,252.0 81.7,251.3 82.8,251.1 83.0,251.0 83.0,250.1 83.2,249.9 84.3,248.1 85.5,246.6 86.6,245.8 87.6,246.4 88.5,248.1 89.4,249.7 90.4,250.1 91.9,250.1 93.6,250.2 97.1,250.5 100.6,250.8 105.2,251.1 111.1,251.1 116.9,251.1 122.9,251.1" stroke="#1580D2" stroke-width="1.3" fill="none" stroke-linejoin="round" clip-path="url(#cc0)"/>
<path d="M42.50 270.50h1.3M123.00 270.50h-1.3M42.50 250.23h1.3M123.00 250.23h-1.3M42.50 229.97h1.3M123.00 229.97h-1.3M42.50 209.70h1.3M123.00 209.70h-1.3M42.50 270.50v-1.3M42.50 209.70v1.3M82.75 270.50v-1.3M82.75 209.70v1.3M123.00 270.50v-1.3M123.00 209.70v1.3" stroke="#262626" stroke-width="0.8" fill="none"/>
<rect x="42.5" y="209.70" width="80.5" height="60.8" fill="none" stroke="#262626" stroke-width="0.8"/>
<text x="39.30" y="272.75" font-size="8.2" fill="#262626" text-anchor="end">-2</text>
<text x="39.30" y="252.48" font-size="8.2" fill="#262626" text-anchor="end">0</text>
<text x="39.30" y="232.22" font-size="8.2" fill="#262626" text-anchor="end">2</text>
<text x="39.30" y="211.95" font-size="8.2" fill="#262626" text-anchor="end">4</text>
<text transform="translate(19.21,240.10) rotate(-90)" font-size="9" fill="#262626" text-anchor="middle">(c)</text>
<text transform="translate(28.21,240.10) rotate(-90)" font-size="9" fill="#262626" text-anchor="middle">mV</text>
<path d="M159.53 209.70V270.50M169.59 209.70V270.50M179.66 209.70V270.50M189.72 209.70V270.50M199.78 209.70V270.50M209.84 209.70V270.50M219.91 209.70V270.50M229.97 209.70V270.50M154.50 266.70H235.00M154.50 259.10H235.00M154.50 251.50H235.00M154.50 243.90H235.00M154.50 236.30H235.00M154.50 228.70H235.00M154.50 221.10H235.00M154.50 213.50H235.00" stroke="#e2e2e2" stroke-width="0.6" stroke-dasharray="0.8 0.8" fill="none"/>
<path d="M164.56 209.70V270.50M174.62 209.70V270.50M184.69 209.70V270.50M194.75 209.70V270.50M204.81 209.70V270.50M214.88 209.70V270.50M224.94 209.70V270.50M154.50 262.90H235.00M154.50 255.30H235.00M154.50 247.70H235.00M154.50 240.10H235.00M154.50 232.50H235.00M154.50 224.90H235.00M154.50 217.30H235.00" stroke="#dadada" stroke-width="0.7" fill="none"/>
<polyline points="154.4,245.2 155.9,245.2 157.4,245.8 158.8,247.0 160.6,248.1 162.3,249.3 164.0,250.5 165.8,251.6 167.5,252.2 169.3,252.8 171.0,253.4 172.8,254.0 174.5,254.5 176.2,254.8 177.6,254.5 178.6,252.2 179.5,242.9 180.3,231.3 181.1,223.1 182.1,219.1 183.0,218.7 183.9,219.6 185.0,220.8 186.1,223.1 187.3,226.6 188.4,232.4 189.3,238.3 190.0,242.9 190.7,245.2 191.9,245.5 193.7,245.5 195.0,245.8 195.0,245.4 195.2,245.5 196.3,246.4 197.3,245.2 198.1,241.7 198.9,236.5 199.8,232.7 200.5,232.4 201.2,235.9 201.9,241.7 202.7,246.4 203.5,248.7 204.5,250.1 205.6,250.1 206.8,249.7 207.9,249.0 209.1,249.0 210.3,249.7 211.4,250.5 212.6,251.3 214.0,252.2 215.5,252.8 217.2,253.4 219.6,254.0 221.9,254.5 224.2,255.1 226.5,255.5 228.9,255.9 231.2,256.3 233.5,256.6 234.9,256.6" stroke="#1580D2" stroke-width="1.3" fill="none" stroke-linejoin="round" clip-path="url(#cc1)"/>
<polyline points="154.4,251.1 155.3,251.6 156.3,250.5 157.2,249.3 158.2,248.5 159.4,248.1 160.6,248.7 161.7,249.7 162.9,250.8 164.0,251.6 165.2,252.2 166.4,252.0 167.5,251.6 168.7,250.8 169.9,250.5 171.0,250.5 172.2,250.8 173.3,251.6 174.5,252.8 175.7,254.0 176.8,254.5 177.6,254.3 178.3,253.4 179.1,246.4 180.0,238.3 180.9,232.4 181.6,228.4 182.3,226.6 183.0,228.4 183.7,231.3 184.4,234.8 185.3,235.9 186.1,236.5 186.9,237.1 187.6,239.4 188.4,242.9 189.3,245.2 190.2,248.1 191.1,250.1 192.0,251.1 193.1,251.3 194.3,250.5 195.0,248.9 195.0,250.4 195.7,250.1 196.6,247.6 197.3,242.9 198.1,239.4 198.9,237.7 199.8,237.1 200.5,239.4 201.2,242.9 202.1,246.4 203.1,249.0 204.0,250.1 205.2,249.9 206.3,248.5 207.5,247.0 208.6,246.4 209.8,246.4 211.0,247.0 212.1,248.7 213.3,250.5 214.5,251.3 216.1,251.6 217.8,252.2 219.6,252.5 221.3,252.8 223.1,252.2 224.4,251.6 226.0,252.0 227.7,252.2 229.4,252.2 231.2,252.5 232.9,252.0 234.1,251.1 234.9,251.1" stroke="#F05A1E" stroke-width="1.3" fill="none" stroke-linejoin="round" clip-path="url(#cc1)"/>
<path d="M154.50 270.50h1.3M235.00 270.50h-1.3M154.50 255.30h1.3M235.00 255.30h-1.3M154.50 240.10h1.3M235.00 240.10h-1.3M154.50 224.90h1.3M235.00 224.90h-1.3M154.50 209.70h1.3M235.00 209.70h-1.3M154.50 270.50v-1.3M154.50 209.70v1.3M194.75 270.50v-1.3M194.75 209.70v1.3M235.00 270.50v-1.3M235.00 209.70v1.3" stroke="#262626" stroke-width="0.8" fill="none"/>
<rect x="154.5" y="209.70" width="80.5" height="60.8" fill="none" stroke="#262626" stroke-width="0.8"/>
<text x="151.30" y="272.75" font-size="8.2" fill="#262626" text-anchor="end">0</text>
<text x="151.30" y="257.55" font-size="8.2" fill="#262626" text-anchor="end">50</text>
<text x="151.30" y="242.35" font-size="8.2" fill="#262626" text-anchor="end">100</text>
<text x="151.30" y="227.15" font-size="8.2" fill="#262626" text-anchor="end">150</text>
<text x="151.30" y="211.95" font-size="8.2" fill="#262626" text-anchor="end">200</text>
<text transform="translate(133.82,240.10) rotate(-90)" font-size="8.75" fill="#262626" text-anchor="middle">mmHg</text>
<path d="M271.63 209.70V270.50M281.69 209.70V270.50M291.76 209.70V270.50M301.82 209.70V270.50M311.88 209.70V270.50M321.94 209.70V270.50M332.01 209.70V270.50M342.07 209.70V270.50M266.60 266.70H347.10M266.60 259.10H347.10M266.60 251.50H347.10M266.60 243.90H347.10M266.60 236.30H347.10M266.60 228.70H347.10M266.60 221.10H347.10M266.60 213.50H347.10" stroke="#e2e2e2" stroke-width="0.6" stroke-dasharray="0.8 0.8" fill="none"/>
<path d="M276.66 209.70V270.50M286.73 209.70V270.50M296.79 209.70V270.50M306.85 209.70V270.50M316.91 209.70V270.50M326.98 209.70V270.50M337.04 209.70V270.50M266.60 262.90H347.10M266.60 255.30H347.10M266.60 247.70H347.10M266.60 240.10H347.10M266.60 232.50H347.10M266.60 224.90H347.10M266.60 217.30H347.10" stroke="#dadada" stroke-width="0.7" fill="none"/>
<polyline points="266.4,248.7 267.1,252.2 267.9,256.9 268.7,259.8 269.6,259.2 270.6,255.7 271.5,252.8 272.6,251.1 273.7,249.3 274.9,246.4 275.7,242.9 276.6,237.7 277.6,234.2 278.7,233.0 279.9,233.0 281.0,232.7 281.9,234.2 282.7,237.7 283.6,241.7 284.5,245.2 285.5,247.6 286.4,248.1 287.3,247.0 288.2,244.7 289.2,244.1 290.1,245.2 291.0,244.1 292.0,241.2 292.9,237.7 293.8,234.8 294.8,234.2 295.7,236.5 296.6,239.4 297.5,240.6 298.5,240.0 299.4,238.3 300.3,238.8 301.3,240.6 302.2,242.9 303.4,244.7 304.5,245.5 305.7,245.5 306.6,244.1 307.0,236.8 307.0,229.5 307.2,226.6 307.7,219.6 308.3,219.1 309.0,223.1 309.7,233.6 310.4,241.7 311.1,242.9 311.8,239.4 312.5,232.4 313.2,225.5 314.1,220.8 315.1,219.6 316.0,221.4 316.9,224.3 317.9,227.8 318.8,231.3 319.7,235.9 320.6,240.6 321.6,245.2 322.5,248.1 323.4,248.7 324.6,248.5 325.8,248.1 326.9,247.6 328.1,246.4 329.2,245.0 330.4,243.5 331.6,243.5 332.7,244.7 333.9,244.1 335.1,242.9 336.2,242.0 337.4,241.5 338.5,241.2 339.7,241.2 340.9,241.5 342.0,241.2 343.2,240.8 344.9,240.3 346.7,240.3 347.3,240.6" stroke="#1580D2" stroke-width="1.3" fill="none" stroke-linejoin="round" clip-path="url(#cc2)"/>
<polyline points="266.4,249.9 267.1,248.7 267.8,251.1 268.5,254.5 269.2,256.9 269.9,254.5 270.8,251.6 271.7,250.5 272.7,248.7 273.7,246.4 274.9,244.1 276.0,238.3 277.2,233.0 278.4,230.7 279.5,228.7 280.3,227.8 281.3,228.4 282.2,230.7 283.0,235.3 283.8,240.6 284.8,243.5 285.7,242.9 286.6,240.6 287.3,241.7 288.0,245.2 288.9,247.0 289.9,247.6 290.8,246.4 291.7,242.9 292.7,237.1 293.6,231.3 294.3,226.6 295.0,224.3 295.7,227.2 296.4,231.3 297.1,228.9 297.8,226.0 298.5,224.3 299.2,228.4 299.9,234.8 300.6,238.3 301.3,241.7 302.0,246.4 302.9,249.9 303.8,254.5 304.5,260.4 305.2,263.3 305.9,261.5 306.6,256.9 307.0,254.2 307.0,248.6 307.4,245.2 308.3,240.6 309.3,239.4 310.1,239.2 310.9,242.9 311.6,239.4 312.3,235.9 313.0,234.2 313.7,234.8 314.4,237.1 315.3,240.0 316.2,241.2 317.2,242.3 318.1,241.7 319.0,242.9 319.9,246.4 320.9,249.9 321.8,251.6 322.7,251.1 323.7,249.3 324.6,248.7 325.5,248.1 326.5,246.4 327.4,242.9 328.3,240.0 329.2,239.2 330.4,239.2 331.3,239.4 332.3,241.7 333.2,244.7 334.1,246.4 335.1,247.6 336.0,248.7 336.9,250.5 337.8,252.2 338.8,252.8 339.7,254.0 340.9,254.5 342.0,254.0 343.0,252.8 343.9,251.6 344.8,252.0 345.7,252.8 346.7,254.0 347.3,254.0" stroke="#F05A1E" stroke-width="1.3" fill="none" stroke-linejoin="round" clip-path="url(#cc2)"/>
<path d="M266.60 270.50h1.3M347.10 270.50h-1.3M266.60 255.30h1.3M347.10 255.30h-1.3M266.60 240.10h1.3M347.10 240.10h-1.3M266.60 224.90h1.3M347.10 224.90h-1.3M266.60 209.70h1.3M347.10 209.70h-1.3M266.60 270.50v-1.3M266.60 209.70v1.3M306.85 270.50v-1.3M306.85 209.70v1.3M347.10 270.50v-1.3M347.10 209.70v1.3" stroke="#262626" stroke-width="0.8" fill="none"/>
<rect x="266.6" y="209.70" width="80.5" height="60.8" fill="none" stroke="#262626" stroke-width="0.8"/>
<text x="263.40" y="272.75" font-size="8.2" fill="#262626" text-anchor="end">0</text>
<text x="263.40" y="257.55" font-size="8.2" fill="#262626" text-anchor="end">5</text>
<text x="263.40" y="242.35" font-size="8.2" fill="#262626" text-anchor="end">10</text>
<text x="263.40" y="227.15" font-size="8.2" fill="#262626" text-anchor="end">15</text>
<text x="263.40" y="211.95" font-size="8.2" fill="#262626" text-anchor="end">20</text>
<text transform="translate(250.48,240.10) rotate(-90)" font-size="8.75" fill="#262626" text-anchor="middle">mmHg</text>
<path d="M384.13 209.70V270.50M394.19 209.70V270.50M404.26 209.70V270.50M414.32 209.70V270.50M424.38 209.70V270.50M434.44 209.70V270.50M444.51 209.70V270.50M454.57 209.70V270.50M379.10 265.43H459.60M379.10 255.30H459.60M379.10 245.17H459.60M379.10 235.03H459.60M379.10 224.90H459.60M379.10 214.77H459.60" stroke="#e2e2e2" stroke-width="0.6" stroke-dasharray="0.8 0.8" fill="none"/>
<path d="M389.16 209.70V270.50M399.23 209.70V270.50M409.29 209.70V270.50M419.35 209.70V270.50M429.41 209.70V270.50M439.48 209.70V270.50M449.54 209.70V270.50M379.10 260.37H459.60M379.10 250.23H459.60M379.10 240.10H459.60M379.10 229.97H459.60M379.10 219.83H459.60" stroke="#dadada" stroke-width="0.7" fill="none"/>
<polyline points="379.4,232.4 380.3,233.0 381.3,235.3 382.2,238.8 383.1,242.9 384.0,245.8 385.0,248.1 386.1,249.9 387.3,251.6 388.5,252.8 389.6,254.0 390.8,254.5 391.9,255.1 393.1,254.5 394.3,253.4 395.4,253.1 396.6,254.0 397.8,254.5 398.9,254.0 399.8,252.2 400.8,247.6 401.7,240.6 402.6,232.4 403.6,225.5 404.5,220.8 405.4,218.5 406.5,217.5 407.6,217.3 408.8,217.3 410.0,217.5 411.1,218.2 411.9,219.6 412.6,223.1 413.3,228.4 414.0,231.3 415.0,231.9 415.9,232.4 416.8,231.3 417.5,226.6 418.2,220.8 418.9,217.3 419.5,215.3 419.5,215.7 419.6,213.8 420.1,215.0 420.6,220.8 421.3,226.6 422.1,230.1 422.9,229.5 423.8,226.6 424.7,223.1 425.7,221.4 426.6,220.2 427.5,219.6 428.5,220.8 429.2,224.3 429.9,228.9 430.6,233.6 431.2,237.7 431.9,238.3 432.6,233.6 433.3,228.4 434.0,228.9 434.7,233.6 435.4,239.4 436.1,242.3 437.1,242.9 438.0,243.5 438.9,244.1 439.8,245.8 440.8,247.0 441.8,248.1 442.9,248.7 443.8,249.3 445.0,248.7 445.9,248.1 447.1,248.7 448.2,249.7 449.4,250.1 451.1,250.5 452.9,250.8 455.2,251.1 457.5,251.1 459.3,251.1" stroke="#1580D2" stroke-width="1.3" fill="none" stroke-linejoin="round" clip-path="url(#cc3)"/>
<polyline points="379.4,255.7 380.1,252.2 380.8,247.6 381.5,244.1 382.2,241.7 382.9,242.9 383.8,245.2 384.7,247.6 385.9,248.1 387.1,247.6 388.2,247.0 389.2,248.1 390.1,249.9 391.0,251.1 391.9,252.0 393.1,252.8 394.3,252.2 395.4,251.6 396.4,252.2 397.3,251.1 398.2,248.7 399.2,246.4 400.1,245.8 400.8,247.6 401.5,246.4 402.4,240.6 403.3,233.6 404.3,226.6 405.2,221.4 405.9,219.1 406.6,220.2 407.3,223.1 408.0,227.8 408.7,231.9 409.4,233.6 410.3,234.2 411.2,235.9 412.2,238.3 412.9,242.9 413.6,248.7 414.3,254.5 415.0,258.0 415.9,259.2 416.8,259.2 417.7,260.4 418.4,262.7 419.1,259.2 419.5,253.8 419.5,248.2 419.7,245.2 420.6,240.6 421.5,239.4 422.2,241.2 423.1,243.5 424.0,244.1 425.0,245.2 426.1,246.4 427.3,247.6 428.5,248.7 429.6,248.5 430.8,249.0 431.9,249.3 433.1,249.9 434.3,250.5 435.4,251.1 436.4,252.2 437.3,254.0 438.2,256.3 439.2,256.9 439.8,254.0 440.5,251.1 441.2,249.9 442.4,250.1 443.6,251.1 444.7,252.2 445.9,253.4 447.1,254.0 448.2,254.5 449.4,255.1 450.5,256.3 451.7,256.9 452.9,257.5 454.0,258.0 455.2,258.3 456.4,258.6 457.5,259.0 459.3,259.2" stroke="#F05A1E" stroke-width="1.3" fill="none" stroke-linejoin="round" clip-path="url(#cc3)"/>
<path d="M379.10 270.50h1.3M459.60 270.50h-1.3M379.10 250.23h1.3M459.60 250.23h-1.3M379.10 229.97h1.3M459.60 229.97h-1.3M379.10 209.70h1.3M459.60 209.70h-1.3M379.10 270.50v-1.3M379.10 209.70v1.3M419.35 270.50v-1.3M419.35 209.70v1.3M459.60 270.50v-1.3M459.60 209.70v1.3" stroke="#262626" stroke-width="0.8" fill="none"/>
<rect x="379.1" y="209.70" width="80.5" height="60.8" fill="none" stroke="#262626" stroke-width="0.8"/>
<text x="375.90" y="272.75" font-size="8.2" fill="#262626" text-anchor="end">0</text>
<text x="375.90" y="252.48" font-size="8.2" fill="#262626" text-anchor="end">20</text>
<text x="375.90" y="232.22" font-size="8.2" fill="#262626" text-anchor="end">40</text>
<text x="375.90" y="211.95" font-size="8.2" fill="#262626" text-anchor="end">60</text>
<text transform="translate(362.98,240.10) rotate(-90)" font-size="8.75" fill="#262626" text-anchor="middle">mmHg</text>
<path d="M47.53 294.40V355.20M57.59 294.40V355.20M67.66 294.40V355.20M77.72 294.40V355.20M87.78 294.40V355.20M97.84 294.40V355.20M107.91 294.40V355.20M117.97 294.40V355.20M42.50 350.13H123.00M42.50 340.00H123.00M42.50 329.87H123.00M42.50 319.73H123.00M42.50 309.60H123.00M42.50 299.47H123.00" stroke="#e2e2e2" stroke-width="0.6" stroke-dasharray="0.8 0.8" fill="none"/>
<path d="M52.56 294.40V355.20M62.62 294.40V355.20M72.69 294.40V355.20M82.75 294.40V355.20M92.81 294.40V355.20M102.88 294.40V355.20M112.94 294.40V355.20M42.50 345.07H123.00M42.50 334.93H123.00M42.50 324.80H123.00M42.50 314.67H123.00M42.50 304.53H123.00" stroke="#dadada" stroke-width="0.7" fill="none"/>
<polyline points="42.4,315.7 43.9,316.0 45.6,316.3 47.4,316.9 48.6,317.4 49.4,316.3 50.9,315.1 52.6,315.1 54.9,315.1 57.3,315.1 59.6,315.1 61.9,315.1 63.7,314.5 64.5,312.2 65.2,311.0 65.9,312.8 66.6,315.7 67.5,316.9 68.4,316.9 69.4,317.4 70.3,320.3 71.0,319.2 71.4,310.5 71.9,301.1 72.4,298.2 72.8,300.0 73.3,308.1 73.8,315.1 74.5,316.3 75.4,316.3 77.0,316.5 78.8,316.9 80.5,317.2 81.7,316.9 82.8,315.7 83.0,315.6 83.0,315.3 83.2,315.1 84.3,314.5 85.7,314.5 86.9,315.1 87.8,316.3 88.5,320.9 89.2,330.2 89.9,339.5 90.6,345.4 91.1,345.9 91.5,341.9 92.2,331.4 93.0,319.8 93.9,311.6 94.8,304.6 95.7,298.8 96.5,295.3 97.3,294.7 98.3,296.5 99.4,298.2 100.4,300.0 101.2,304.6 102.0,309.3 102.9,312.8 104.1,313.9 105.8,314.2 108.1,314.5 111.1,314.5 114.5,314.6 118.0,314.6 121.5,314.6 122.9,314.6" stroke="#1580D2" stroke-width="1.3" fill="none" stroke-linejoin="round" clip-path="url(#cd0)"/>
<path d="M42.50 355.20h1.3M123.00 355.20h-1.3M42.50 334.93h1.3M123.00 334.93h-1.3M42.50 314.67h1.3M123.00 314.67h-1.3M42.50 294.40h1.3M123.00 294.40h-1.3M42.50 355.20v-1.3M42.50 294.40v1.3M82.75 355.20v-1.3M82.75 294.40v1.3M123.00 355.20v-1.3M123.00 294.40v1.3" stroke="#262626" stroke-width="0.8" fill="none"/>
<rect x="42.5" y="294.40" width="80.5" height="60.8" fill="none" stroke="#262626" stroke-width="0.8"/>
<text x="39.30" y="357.45" font-size="8.2" fill="#262626" text-anchor="end">-2</text>
<text x="39.30" y="337.18" font-size="8.2" fill="#262626" text-anchor="end">-1</text>
<text x="39.30" y="316.92" font-size="8.2" fill="#262626" text-anchor="end">0</text>
<text x="39.30" y="296.65" font-size="8.2" fill="#262626" text-anchor="end">1</text>
<text transform="translate(19.21,324.80) rotate(-90)" font-size="9" fill="#262626" text-anchor="middle">(d)</text>
<text transform="translate(28.21,324.80) rotate(-90)" font-size="9" fill="#262626" text-anchor="middle">mV</text>
<path d="M159.53 294.40V355.20M169.59 294.40V355.20M179.66 294.40V355.20M189.72 294.40V355.20M199.78 294.40V355.20M209.84 294.40V355.20M219.91 294.40V355.20M229.97 294.40V355.20M154.50 350.13H235.00M154.50 340.00H235.00M154.50 329.87H235.00M154.50 319.73H235.00M154.50 309.60H235.00M154.50 299.47H235.00" stroke="#e2e2e2" stroke-width="0.6" stroke-dasharray="0.8 0.8" fill="none"/>
<path d="M164.56 294.40V355.20M174.62 294.40V355.20M184.69 294.40V355.20M194.75 294.40V355.20M204.81 294.40V355.20M214.88 294.40V355.20M224.94 294.40V355.20M154.50 345.07H235.00M154.50 334.93H235.00M154.50 324.80H235.00M154.50 314.67H235.00M154.50 304.53H235.00" stroke="#dadada" stroke-width="0.7" fill="none"/>
<polyline points="154.4,347.7 155.3,348.3 156.5,348.9 157.6,347.7 158.6,344.2 159.4,336.1 160.2,326.7 161.1,318.6 162.1,314.5 162.9,312.5 163.7,312.2 164.4,313.9 165.2,317.4 166.0,323.3 166.9,329.1 167.9,333.1 169.0,336.1 170.4,337.8 172.2,338.4 173.7,339.0 175.1,340.1 176.2,341.3 177.4,342.5 178.8,343.6 180.3,344.8 182.1,345.9 183.8,346.8 185.5,347.5 187.3,348.3 188.8,348.9 190.0,349.4 190.8,347.7 191.6,339.5 192.5,327.9 193.4,319.8 194.3,315.1 195.0,313.0 195.0,312.3 195.7,312.8 196.6,316.3 197.5,323.3 198.4,329.1 199.3,333.1 200.4,335.5 201.6,336.6 202.7,337.2 203.9,337.8 205.0,339.0 206.2,340.1 207.4,340.7 208.5,341.9 209.7,342.5 210.9,343.3 212.0,343.0 212.8,341.3 213.8,339.0 214.7,337.2 215.5,338.4 216.3,341.9 217.2,344.2 218.4,345.4 219.6,346.3 221.0,347.1 222.5,347.5 224.0,347.7 225.4,347.7 226.8,348.3 227.9,348.6 229.1,349.1 230.6,349.8 232.4,350.6 234.1,350.9 234.9,351.2" stroke="#1580D2" stroke-width="1.3" fill="none" stroke-linejoin="round" clip-path="url(#cd1)"/>
<polyline points="154.4,350.6 155.3,350.0 156.5,349.4 157.6,348.3 158.6,344.8 159.5,338.4 160.4,330.2 161.4,324.4 162.3,322.7 163.5,321.9 164.4,322.1 165.2,323.8 166.0,326.7 166.9,331.4 167.9,334.9 169.0,337.2 170.4,338.4 172.2,338.6 173.7,339.3 175.1,340.5 176.2,341.9 177.4,343.3 178.8,344.2 180.3,345.4 182.1,346.3 183.8,347.1 185.5,347.7 187.3,348.6 188.8,349.4 190.0,350.3 190.8,348.3 191.6,339.5 192.5,327.9 193.4,319.8 194.3,314.5 195.0,311.9 195.0,310.8 195.4,310.5 196.1,311.6 196.9,316.3 197.7,324.4 198.6,330.2 199.6,332.6 200.5,333.7 201.7,334.3 202.8,335.1 204.0,336.6 205.2,338.4 206.3,340.1 207.5,341.6 208.6,342.5 209.8,341.3 211.0,339.5 212.1,338.4 213.3,339.0 214.2,340.1 215.2,341.9 216.1,344.2 217.2,346.5 218.4,348.3 219.6,349.4 221.0,350.6 222.4,350.9 223.8,350.6 225.1,350.0 226.5,349.4 227.7,347.7 228.4,346.5 229.1,347.7 230.3,348.9 231.4,350.0 232.8,350.6 234.1,350.3 234.9,350.0" stroke="#F05A1E" stroke-width="1.3" fill="none" stroke-linejoin="round" clip-path="url(#cd1)"/>
<path d="M154.50 355.20h1.3M235.00 355.20h-1.3M154.50 334.93h1.3M235.00 334.93h-1.3M154.50 314.67h1.3M235.00 314.67h-1.3M154.50 294.40h1.3M235.00 294.40h-1.3M154.50 355.20v-1.3M154.50 294.40v1.3M194.75 355.20v-1.3M194.75 294.40v1.3M235.00 355.20v-1.3M235.00 294.40v1.3" stroke="#262626" stroke-width="0.8" fill="none"/>
<rect x="154.5" y="294.40" width="80.5" height="60.8" fill="none" stroke="#262626" stroke-width="0.8"/>
<text x="151.30" y="357.45" font-size="8.2" fill="#262626" text-anchor="end">50</text>
<text x="151.30" y="337.18" font-size="8.2" fill="#262626" text-anchor="end">100</text>
<text x="151.30" y="316.92" font-size="8.2" fill="#262626" text-anchor="end">150</text>
<text x="151.30" y="296.65" font-size="8.2" fill="#262626" text-anchor="end">200</text>
<text transform="translate(133.82,324.80) rotate(-90)" font-size="8.75" fill="#262626" text-anchor="middle">mmHg</text>
<path d="M271.63 294.40V355.20M281.69 294.40V355.20M291.76 294.40V355.20M301.82 294.40V355.20M311.88 294.40V355.20M321.94 294.40V355.20M332.01 294.40V355.20M342.07 294.40V355.20M266.60 350.13H347.10M266.60 340.00H347.10M266.60 329.87H347.10M266.60 319.73H347.10M266.60 309.60H347.10M266.60 299.47H347.10" stroke="#e2e2e2" stroke-width="0.6" stroke-dasharray="0.8 0.8" fill="none"/>
<path d="M276.66 294.40V355.20M286.73 294.40V355.20M296.79 294.40V355.20M306.85 294.40V355.20M316.91 294.40V355.20M326.98 294.40V355.20M337.04 294.40V355.20M266.60 345.07H347.10M266.60 334.93H347.10M266.60 324.80H347.10M266.60 314.67H347.10M266.60 304.53H347.10" stroke="#dadada" stroke-width="0.7" fill="none"/>
<polyline points="266.4,333.7 267.3,336.1 268.3,339.5 269.2,343.0 270.1,345.9 271.0,346.5 272.0,345.4 272.9,344.2 273.8,342.5 274.8,341.3 275.7,339.5 276.6,337.2 277.6,334.9 278.5,334.0 279.4,334.3 280.3,335.5 281.3,334.9 282.2,335.5 283.1,336.6 284.1,337.8 285.0,339.0 285.9,339.5 286.8,338.4 287.8,336.6 288.7,335.5 289.6,333.7 290.6,330.2 291.5,325.6 292.4,321.5 293.1,320.3 293.8,321.5 294.6,324.4 295.4,327.3 296.4,329.1 297.5,330.2 298.7,332.0 299.6,333.7 300.6,336.1 301.5,339.5 302.4,343.0 303.4,345.9 304.3,345.9 305.0,343.0 305.7,338.4 306.4,332.6 307.0,329.4 307.0,331.0 307.4,329.1 308.3,327.3 309.5,326.5 310.6,325.6 311.8,325.0 313.0,324.4 314.4,324.4 315.5,325.0 316.7,325.6 317.9,325.8 319.0,325.3 320.2,325.0 321.3,324.4 322.3,321.5 323.2,317.4 324.1,313.4 325.1,308.7 326.0,304.1 326.9,301.4 327.6,302.3 328.3,305.8 329.0,310.5 329.7,315.1 330.6,319.8 331.6,323.3 332.5,325.6 333.4,327.3 334.4,328.5 335.3,329.7 336.2,330.2 337.1,330.0 338.3,328.8 339.5,327.9 340.6,326.7 341.8,325.6 343.0,324.4 344.1,323.5 345.3,323.0 346.4,322.1 347.3,321.5" stroke="#1580D2" stroke-width="1.3" fill="none" stroke-linejoin="round" clip-path="url(#cd2)"/>
<polyline points="266.4,332.6 267.1,333.7 267.8,337.2 268.5,340.7 269.2,341.3 269.9,341.9 270.6,343.0 271.4,344.2 272.2,342.5 272.9,343.6 273.6,341.9 274.3,340.1 275.0,339.0 275.7,337.2 276.4,339.0 277.1,343.0 277.8,339.5 278.5,346.5 278.9,337.2 279.6,334.9 280.3,339.5 281.0,341.3 281.7,336.6 282.4,338.4 283.1,339.5 283.8,336.6 284.3,333.7 285.0,337.2 285.7,340.7 286.4,343.0 287.1,344.2 287.8,342.5 288.7,340.7 289.6,339.0 290.6,334.9 291.5,331.4 292.4,327.9 293.1,326.7 293.8,329.1 294.6,332.6 295.4,334.9 296.4,336.1 297.5,335.5 298.7,336.6 299.6,338.4 300.6,340.7 301.5,344.2 302.4,346.5 303.4,348.3 304.3,350.0 305.0,351.2 305.7,347.7 306.4,339.5 307.0,332.2 307.0,327.3 307.6,322.1 308.1,318.0 308.6,319.8 309.3,326.7 310.0,319.8 310.6,312.2 311.3,313.4 312.0,310.5 312.7,312.8 313.4,313.9 314.1,316.3 314.8,318.0 315.5,319.2 316.2,317.4 316.9,315.1 317.6,313.4 318.3,314.5 319.0,318.6 319.7,323.3 320.6,326.7 321.6,328.5 322.5,328.5 323.4,326.7 324.6,324.4 325.8,322.1 326.9,319.8 328.1,317.4 329.0,315.7 329.7,315.1 330.4,318.6 331.1,323.3 331.8,331.4 332.5,337.2 333.2,334.9 333.9,327.9 334.8,326.7 335.8,327.9 336.7,329.1 337.6,327.9 338.5,325.0 339.5,320.9 340.2,316.3 340.6,314.5 341.3,316.3 342.0,319.2 343.0,323.3 343.9,325.0 344.8,324.4 345.7,323.3 346.7,322.1 347.3,321.5" stroke="#F05A1E" stroke-width="1.3" fill="none" stroke-linejoin="round" clip-path="url(#cd2)"/>
<path d="M266.60 355.20h1.3M347.10 355.20h-1.3M266.60 334.93h1.3M347.10 334.93h-1.3M266.60 314.67h1.3M347.10 314.67h-1.3M266.60 294.40h1.3M347.10 294.40h-1.3M266.60 355.20v-1.3M266.60 294.40v1.3M306.85 355.20v-1.3M306.85 294.40v1.3M347.10 355.20v-1.3M347.10 294.40v1.3" stroke="#262626" stroke-width="0.8" fill="none"/>
<rect x="266.6" y="294.40" width="80.5" height="60.8" fill="none" stroke="#262626" stroke-width="0.8"/>
<text x="263.40" y="357.45" font-size="8.2" fill="#262626" text-anchor="end">0</text>
<text x="263.40" y="337.18" font-size="8.2" fill="#262626" text-anchor="end">5</text>
<text x="263.40" y="316.92" font-size="8.2" fill="#262626" text-anchor="end">10</text>
<text x="263.40" y="296.65" font-size="8.2" fill="#262626" text-anchor="end">15</text>
<text transform="translate(250.48,324.80) rotate(-90)" font-size="8.75" fill="#262626" text-anchor="middle">mmHg</text>
<path d="M384.13 294.40V355.20M394.19 294.40V355.20M404.26 294.40V355.20M414.32 294.40V355.20M424.38 294.40V355.20M434.44 294.40V355.20M444.51 294.40V355.20M454.57 294.40V355.20M379.10 351.40H459.60M379.10 343.80H459.60M379.10 336.20H459.60M379.10 328.60H459.60M379.10 321.00H459.60M379.10 313.40H459.60M379.10 305.80H459.60M379.10 298.20H459.60" stroke="#e2e2e2" stroke-width="0.6" stroke-dasharray="0.8 0.8" fill="none"/>
<path d="M389.16 294.40V355.20M399.23 294.40V355.20M409.29 294.40V355.20M419.35 294.40V355.20M429.41 294.40V355.20M439.48 294.40V355.20M449.54 294.40V355.20M379.10 347.60H459.60M379.10 340.00H459.60M379.10 332.40H459.60M379.10 324.80H459.60M379.10 317.20H459.60M379.10 309.60H459.60M379.10 302.00H459.60" stroke="#dadada" stroke-width="0.7" fill="none"/>
<polyline points="379.4,332.6 380.1,330.2 380.8,327.9 381.5,329.1 382.2,325.6 382.9,320.9 383.8,315.7 384.7,312.2 385.7,311.6 386.6,312.8 387.5,315.1 388.5,318.6 389.4,323.3 390.3,327.9 391.2,330.2 392.2,330.8 393.1,331.4 394.0,331.4 395.0,330.2 395.7,327.9 396.4,327.9 397.1,330.2 397.8,333.7 398.7,336.6 399.6,338.4 400.5,338.4 401.5,337.5 402.4,337.2 403.3,337.8 404.3,339.0 405.2,340.7 406.1,343.0 407.1,344.8 407.8,344.2 408.4,341.9 409.4,339.5 410.3,337.8 411.2,334.9 412.2,330.2 413.1,325.6 414.0,323.3 415.0,322.1 415.9,317.4 416.8,309.3 417.7,307.0 418.7,304.6 419.5,304.1 419.5,304.8 420.3,306.4 421.3,309.3 422.2,312.8 423.1,316.3 424.0,318.6 425.0,319.8 425.9,320.9 426.8,321.5 427.8,319.8 428.7,316.9 429.6,318.0 430.6,322.1 431.5,325.6 432.4,327.9 433.1,329.7 433.8,326.7 434.5,318.6 435.2,312.8 435.9,313.4 436.6,322.1 437.3,332.6 438.0,336.6 438.7,331.4 439.4,320.9 440.1,315.1 440.8,314.5 441.7,316.3 442.6,317.4 443.6,316.3 444.5,315.1 445.4,315.1 446.1,316.3 446.8,319.8 447.8,323.3 448.7,325.0 449.6,324.4 450.5,325.0 451.5,326.2 452.4,327.3 453.3,327.9 454.3,328.5 455.2,328.8 456.4,329.3 457.5,330.0 458.7,330.8 459.3,331.4" stroke="#1580D2" stroke-width="1.3" fill="none" stroke-linejoin="round" clip-path="url(#cd3)"/>
<polyline points="379.4,335.5 380.1,334.3 380.8,332.6 381.5,330.2 382.2,325.6 382.9,319.8 383.8,313.9 384.7,312.8 385.4,316.3 386.1,320.9 386.8,323.3 387.5,320.9 388.2,319.8 388.9,323.3 389.6,326.7 390.3,330.2 391.0,332.6 391.7,333.7 392.4,336.1 393.1,337.2 393.8,336.6 394.5,333.7 395.2,332.0 395.9,331.4 396.6,332.6 397.3,334.3 398.0,335.5 398.7,337.2 399.6,339.5 400.5,340.1 401.5,339.5 402.4,337.8 403.3,337.2 404.3,338.4 405.2,340.1 406.1,342.5 407.1,344.0 408.0,343.0 408.9,340.7 409.8,339.0 410.8,336.6 411.7,335.5 412.6,335.5 413.6,336.1 414.5,332.6 415.4,325.6 416.4,319.8 417.3,322.1 418.0,323.3 418.7,316.3 419.4,308.1 419.5,307.7 419.5,304.3 419.7,304.1 420.3,308.1 421.0,313.9 421.7,317.4 422.4,316.9 423.1,316.3 423.8,316.9 424.5,315.7 425.2,315.1 425.9,314.5 426.6,316.3 427.3,317.4 428.0,316.9 428.9,316.3 429.9,317.4 430.8,322.1 431.7,327.9 432.4,332.6 433.3,332.0 434.3,331.4 435.2,332.0 436.1,330.8 437.1,331.4 438.0,329.1 438.9,325.6 439.8,321.5 440.8,320.3 441.7,320.9 442.6,323.3 443.6,326.2 444.5,328.5 445.4,330.2 446.4,332.0 447.3,330.8 448.2,330.2 449.1,331.4 450.1,332.6 451.0,333.7 451.9,336.1 452.9,337.2 453.8,335.5 454.7,334.3 455.7,334.9 456.6,336.1 457.5,334.9 458.4,333.7 459.3,333.1" stroke="#F05A1E" stroke-width="1.3" fill="none" stroke-linejoin="round" clip-path="url(#cd3)"/>
<path d="M379.10 355.20h1.3M459.60 355.20h-1.3M379.10 340.00h1.3M459.60 340.00h-1.3M379.10 324.80h1.3M459.60 324.80h-1.3M379.10 309.60h1.3M459.60 309.60h-1.3M379.10 294.40h1.3M459.60 294.40h-1.3M379.10 355.20v-1.3M379.10 294.40v1.3M419.35 355.20v-1.3M419.35 294.40v1.3M459.60 355.20v-1.3M459.60 294.40v1.3" stroke="#262626" stroke-width="0.8" fill="none"/>
<rect x="379.1" y="294.40" width="80.5" height="60.8" fill="none" stroke="#262626" stroke-width="0.8"/>
<text x="375.90" y="357.45" font-size="8.2" fill="#262626" text-anchor="end">0</text>
<text x="375.90" y="342.25" font-size="8.2" fill="#262626" text-anchor="end">10</text>
<text x="375.90" y="327.05" font-size="8.2" fill="#262626" text-anchor="end">20</text>
<text x="375.90" y="311.85" font-size="8.2" fill="#262626" text-anchor="end">30</text>
<text x="375.90" y="296.65" font-size="8.2" fill="#262626" text-anchor="end">40</text>
<text transform="translate(362.98,324.80) rotate(-90)" font-size="8.75" fill="#262626" text-anchor="middle">mmHg</text>
<path d="M47.53 379.30V440.10M57.59 379.30V440.10M67.66 379.30V440.10M77.72 379.30V440.10M87.78 379.30V440.10M97.84 379.30V440.10M107.91 379.30V440.10M117.97 379.30V440.10M42.50 435.03H123.00M42.50 424.90H123.00M42.50 414.77H123.00M42.50 404.63H123.00M42.50 394.50H123.00M42.50 384.37H123.00" stroke="#e2e2e2" stroke-width="0.6" stroke-dasharray="0.8 0.8" fill="none"/>
<path d="M52.56 379.30V440.10M62.62 379.30V440.10M72.69 379.30V440.10M82.75 379.30V440.10M92.81 379.30V440.10M102.88 379.30V440.10M112.94 379.30V440.10M42.50 429.97H123.00M42.50 419.83H123.00M42.50 409.70H123.00M42.50 399.57H123.00M42.50 389.43H123.00" stroke="#dadada" stroke-width="0.7" fill="none"/>
<polyline points="42.4,432.7 43.3,433.3 44.5,434.4 45.4,435.0 46.1,430.4 46.6,416.4 47.0,401.3 47.4,397.2 47.7,401.3 48.2,416.4 48.7,430.4 49.4,435.0 50.3,436.8 51.7,437.3 53.2,437.1 54.9,436.4 56.7,435.6 57.9,434.4 58.7,432.7 59.6,431.8 60.5,432.7 61.5,432.1 62.5,432.1 63.7,432.7 64.8,433.3 66.0,434.4 67.1,435.3 68.0,433.9 68.4,424.5 68.9,407.1 69.2,398.9 69.6,401.3 70.1,415.2 70.6,429.2 71.2,436.8 72.1,437.9 73.5,437.6 75.3,436.8 77.0,436.2 78.8,435.6 79.9,433.9 81.1,431.8 82.3,431.3 83.0,431.4 83.0,431.7 83.2,431.8 84.3,432.7 85.3,430.4 85.7,418.7 86.2,403.6 86.5,395.5 86.9,397.8 87.3,412.9 87.8,426.9 88.5,433.9 89.4,435.0 90.7,435.3 92.5,435.3 94.2,435.6 95.4,435.6 96.2,434.4 96.9,432.7 97.8,432.1 98.9,432.7 100.0,433.3 101.2,433.6 102.3,433.9 103.5,434.4 104.7,434.8 105.8,435.0 107.0,435.0 108.1,434.4 109.3,433.9 110.5,434.4 111.6,434.4 112.8,434.8 114.0,434.4 114.5,429.2 115.0,415.2 115.5,403.6 115.9,400.1 116.4,401.3 116.9,412.9 117.3,426.9 118.0,436.2 119.0,437.6 120.4,437.6 122.1,437.3 122.9,437.3" stroke="#1580D2" stroke-width="1.3" fill="none" stroke-linejoin="round" clip-path="url(#ce0)"/>
<path d="M42.50 440.10h1.3M123.00 440.10h-1.3M42.50 419.83h1.3M123.00 419.83h-1.3M42.50 399.57h1.3M123.00 399.57h-1.3M42.50 379.30h1.3M123.00 379.30h-1.3M42.50 440.10v-1.3M42.50 379.30v1.3M82.75 440.10v-1.3M82.75 379.30v1.3M123.00 440.10v-1.3M123.00 379.30v1.3" stroke="#262626" stroke-width="0.8" fill="none"/>
<rect x="42.5" y="379.30" width="80.5" height="60.8" fill="none" stroke="#262626" stroke-width="0.8"/>
<text x="39.30" y="442.35" font-size="8.2" fill="#262626" text-anchor="end">0</text>
<text x="39.30" y="422.08" font-size="8.2" fill="#262626" text-anchor="end">0.5</text>
<text x="39.30" y="401.82" font-size="8.2" fill="#262626" text-anchor="end">1</text>
<text x="39.30" y="381.55" font-size="8.2" fill="#262626" text-anchor="end">1.5</text>
<text transform="translate(15.10,409.70) rotate(-90)" font-size="9" fill="#262626" text-anchor="middle">(e)</text>
<text transform="translate(24.10,409.70) rotate(-90)" font-size="9" fill="#262626" text-anchor="middle">mV</text>
<path d="M159.53 379.30V440.10M169.59 379.30V440.10M179.66 379.30V440.10M189.72 379.30V440.10M199.78 379.30V440.10M209.84 379.30V440.10M219.91 379.30V440.10M229.97 379.30V440.10M154.50 435.03H235.00M154.50 424.90H235.00M154.50 414.77H235.00M154.50 404.63H235.00M154.50 394.50H235.00M154.50 384.37H235.00" stroke="#e2e2e2" stroke-width="0.6" stroke-dasharray="0.8 0.8" fill="none"/>
<path d="M164.56 379.30V440.10M174.62 379.30V440.10M184.69 379.30V440.10M194.75 379.30V440.10M204.81 379.30V440.10M214.88 379.30V440.10M224.94 379.30V440.10M154.50 429.97H235.00M154.50 419.83H235.00M154.50 409.70H235.00M154.50 399.57H235.00M154.50 389.43H235.00" stroke="#dadada" stroke-width="0.7" fill="none"/>
<polyline points="154.4,422.8 155.3,423.6 156.5,424.3 157.6,424.0 158.8,423.4 160.0,422.8 161.1,422.8 162.3,423.4 163.5,423.6 164.6,424.0 165.8,424.3 166.7,424.5 167.4,422.2 168.1,412.9 168.8,401.3 169.5,392.0 170.2,385.0 171.0,380.9 171.8,380.3 172.5,382.7 173.3,388.5 174.2,396.6 175.1,404.8 176.0,411.7 176.9,417.6 177.9,421.1 178.8,422.8 180.0,423.6 181.1,423.7 182.3,423.1 183.4,422.2 184.4,421.6 185.3,422.2 186.2,423.1 187.2,423.4 188.1,423.1 189.0,422.2 189.7,417.6 190.4,408.3 191.1,398.9 191.8,390.8 192.5,384.4 193.2,382.1 193.9,381.7 194.6,382.7 195.0,384.6 195.0,390.8 195.4,395.5 196.1,404.8 196.9,411.7 197.7,416.4 198.6,419.3 199.8,421.6 201.0,422.8 202.1,423.4 203.3,423.4 204.5,423.1 205.6,422.8 206.8,422.0 207.7,419.9 208.5,412.9 209.3,405.9 210.3,400.1 211.2,396.6 212.0,397.2 212.8,399.5 213.8,404.8 214.7,411.7 215.6,417.6 216.5,422.2 217.5,425.1 218.4,425.9 219.6,426.3 220.7,425.9 221.9,425.5 223.1,425.1 224.2,424.8 225.4,424.5 226.5,424.3 227.7,424.3 228.9,424.3 230.0,424.5 231.2,424.8 232.4,425.1 233.5,425.7 234.7,426.6 235.3,426.9" stroke="#1580D2" stroke-width="1.3" fill="none" stroke-linejoin="round" clip-path="url(#ce1)"/>
<polyline points="154.4,417.0 155.1,418.7 155.8,421.6 156.5,421.3 157.4,419.9 158.3,419.3 159.3,419.9 160.2,421.1 161.4,422.2 162.5,422.8 163.7,423.4 164.9,423.6 166.0,423.7 166.9,423.4 167.6,419.9 168.3,410.6 169.0,401.3 169.7,394.3 170.4,390.8 171.4,388.5 172.2,387.3 173.0,388.5 173.7,393.1 174.4,398.9 175.1,404.8 176.0,410.6 176.9,415.2 177.9,417.6 178.8,418.1 180.0,419.3 181.1,420.1 182.3,420.8 183.4,421.6 184.6,422.8 185.8,423.4 186.9,422.8 188.1,421.6 189.0,419.9 189.7,414.1 190.4,404.8 191.1,395.5 191.8,388.5 192.5,384.4 193.2,385.0 193.9,389.6 194.6,398.9 195.0,404.9 195.0,414.0 195.6,416.4 196.6,419.3 197.5,420.5 198.6,419.9 199.8,419.3 201.0,418.7 201.9,418.7 202.8,419.9 203.8,421.1 204.7,422.0 205.6,422.2 206.6,421.6 207.2,418.7 207.9,411.7 208.6,402.4 209.3,393.1 210.0,386.1 210.7,382.1 211.4,381.5 212.1,385.0 212.8,390.8 213.5,397.8 214.3,401.3 215.2,404.8 216.1,411.7 217.0,416.4 217.9,418.7 218.9,419.3 219.8,418.1 220.7,417.8 221.9,417.6 223.1,418.1 224.2,418.5 225.1,418.1 226.1,416.4 227.0,414.1 227.9,412.3 228.9,411.5 229.8,411.2 230.7,411.7 231.7,412.9 232.6,414.1 233.5,415.8 234.4,417.0 235.3,417.6" stroke="#F05A1E" stroke-width="1.3" fill="none" stroke-linejoin="round" clip-path="url(#ce1)"/>
<path d="M154.50 440.10h1.3M235.00 440.10h-1.3M154.50 419.83h1.3M235.00 419.83h-1.3M154.50 399.57h1.3M235.00 399.57h-1.3M154.50 379.30h1.3M235.00 379.30h-1.3M154.50 440.10v-1.3M154.50 379.30v1.3M194.75 440.10v-1.3M194.75 379.30v1.3M235.00 440.10v-1.3M235.00 379.30v1.3" stroke="#262626" stroke-width="0.8" fill="none"/>
<rect x="154.5" y="379.30" width="80.5" height="60.8" fill="none" stroke="#262626" stroke-width="0.8"/>
<text x="151.30" y="442.35" font-size="8.2" fill="#262626" text-anchor="end">40</text>
<text x="151.30" y="422.08" font-size="8.2" fill="#262626" text-anchor="end">60</text>
<text x="151.30" y="401.82" font-size="8.2" fill="#262626" text-anchor="end">80</text>
<text x="151.30" y="381.55" font-size="8.2" fill="#262626" text-anchor="end">100</text>
<text transform="translate(133.82,409.70) rotate(-90)" font-size="8.75" fill="#262626" text-anchor="middle">mmHg</text>
<path d="M271.63 379.30V440.10M281.69 379.30V440.10M291.76 379.30V440.10M301.82 379.30V440.10M311.88 379.30V440.10M321.94 379.30V440.10M332.01 379.30V440.10M342.07 379.30V440.10M266.60 435.03H347.10M266.60 424.90H347.10M266.60 414.77H347.10M266.60 404.63H347.10M266.60 394.50H347.10M266.60 384.37H347.10" stroke="#e2e2e2" stroke-width="0.6" stroke-dasharray="0.8 0.8" fill="none"/>
<path d="M276.66 379.30V440.10M286.73 379.30V440.10M296.79 379.30V440.10M306.85 379.30V440.10M316.91 379.30V440.10M326.98 379.30V440.10M337.04 379.30V440.10M266.60 429.97H347.10M266.60 419.83H347.10M266.60 409.70H347.10M266.60 399.57H347.10M266.60 389.43H347.10" stroke="#dadada" stroke-width="0.7" fill="none"/>
<polyline points="266.4,403.0 267.1,400.7 267.8,398.9 268.5,397.8 269.2,396.6 269.9,398.4 270.6,402.4 271.3,408.3 272.0,412.9 272.7,416.4 273.4,418.7 274.1,416.4 274.8,412.9 275.5,412.3 276.2,413.5 276.9,414.1 277.6,412.9 278.2,415.2 278.9,414.1 279.6,410.6 280.3,408.3 281.0,406.5 281.7,405.9 282.4,408.8 283.1,410.0 283.8,407.1 284.5,405.3 285.2,404.2 285.9,404.8 286.6,407.1 287.3,408.8 288.0,408.3 288.7,404.8 289.4,402.4 290.1,400.7 290.8,398.4 291.5,397.2 292.2,399.5 292.9,403.6 293.6,410.0 294.3,416.4 295.0,421.6 295.7,423.4 296.4,419.9 297.1,415.2 297.8,412.3 298.5,413.5 299.2,414.7 299.9,415.2 300.6,416.4 301.3,416.4 302.0,412.9 302.7,410.6 303.4,408.8 304.0,408.3 304.7,407.7 305.7,407.1 306.6,406.5 307.0,406.2 307.0,403.4 307.9,401.3 308.8,400.1 309.7,400.1 310.6,401.3 311.6,403.6 312.5,406.5 313.4,409.4 314.4,414.1 315.3,417.6 316.2,417.0 317.2,414.1 318.1,412.9 319.0,412.3 319.9,411.2 320.9,408.8 321.8,406.5 322.7,403.6 323.4,401.9 324.4,401.3 325.3,403.0 326.2,405.3 327.2,407.1 328.1,405.9 329.0,404.8 329.9,404.2 330.9,404.2 331.8,403.6 332.7,402.4 333.7,401.3 334.6,398.9 335.5,394.3 336.4,389.6 337.4,386.7 338.3,385.6 339.2,387.3 340.2,393.1 341.1,398.9 342.0,397.8 343.0,393.1 343.9,391.4 344.8,392.0 345.7,396.6 346.7,402.4 347.4,401.3" stroke="#1580D2" stroke-width="1.3" fill="none" stroke-linejoin="round" clip-path="url(#ce2)"/>
<polyline points="266.4,405.9 267.1,403.0 267.8,400.1 268.5,397.8 269.2,395.5 269.9,394.9 270.6,398.9 271.3,404.8 272.0,409.4 272.7,412.9 273.4,411.7 274.1,409.4 274.8,406.5 275.5,407.1 276.2,408.8 276.9,410.6 277.6,411.7 278.2,410.0 278.9,408.3 279.6,407.1 280.3,405.3 281.0,403.6 281.7,404.2 282.4,407.1 283.1,410.6 283.8,408.8 284.5,405.3 285.2,400.7 285.9,400.7 286.6,403.0 287.3,401.9 288.0,400.1 288.7,399.5 289.4,400.7 290.1,399.5 290.8,397.8 291.5,398.4 292.2,401.3 292.9,405.9 293.6,409.4 294.3,412.9 295.0,416.4 295.7,417.6 296.4,412.9 297.1,410.0 297.8,410.6 298.5,412.9 299.2,415.2 299.9,417.6 300.6,419.9 301.3,421.6 302.0,418.7 302.7,414.7 303.4,411.7 304.0,410.0 304.7,408.8 305.7,407.7 306.6,406.9 307.0,406.0 307.0,405.6 307.4,403.6 308.3,401.3 309.3,398.9 310.0,400.1 310.6,404.8 311.6,410.6 312.5,415.2 313.4,415.8 314.4,412.9 315.3,414.1 316.2,412.9 317.2,411.2 318.1,409.4 319.0,407.7 319.9,406.5 320.9,407.1 321.8,405.3 322.7,402.4 323.4,400.1 324.4,400.1 325.3,403.0 326.2,408.3 327.2,412.9 328.1,415.2 329.0,415.8 329.9,412.9 330.9,408.3 331.8,404.8 332.7,403.6 333.7,402.4 334.6,400.1 335.5,395.5 336.4,391.4 337.4,389.6 338.3,389.1 339.2,390.8 340.2,395.5 340.9,401.3 341.6,405.9 342.3,405.3 343.0,402.4 343.7,400.1 344.4,401.3 345.0,403.6 345.7,407.1 346.4,411.7 347.1,418.7 347.6,422.2" stroke="#F05A1E" stroke-width="1.3" fill="none" stroke-linejoin="round" clip-path="url(#ce2)"/>
<path d="M266.60 440.10h1.3M347.10 440.10h-1.3M266.60 419.83h1.3M347.10 419.83h-1.3M266.60 399.57h1.3M347.10 399.57h-1.3M266.60 379.30h1.3M347.10 379.30h-1.3M266.60 440.10v-1.3M266.60 379.30v1.3M306.85 440.10v-1.3M306.85 379.30v1.3M347.10 440.10v-1.3M347.10 379.30v1.3" stroke="#262626" stroke-width="0.8" fill="none"/>
<rect x="266.6" y="379.30" width="80.5" height="60.8" fill="none" stroke="#262626" stroke-width="0.8"/>
<text x="263.40" y="442.35" font-size="8.2" fill="#262626" text-anchor="end">10</text>
<text x="263.40" y="422.08" font-size="8.2" fill="#262626" text-anchor="end">15</text>
<text x="263.40" y="401.82" font-size="8.2" fill="#262626" text-anchor="end">20</text>
<text x="263.40" y="381.55" font-size="8.2" fill="#262626" text-anchor="end">25</text>
<text transform="translate(250.48,409.70) rotate(-90)" font-size="8.75" fill="#262626" text-anchor="middle">mmHg</text>
<path d="M384.13 379.30V440.10M394.19 379.30V440.10M404.26 379.30V440.10M414.32 379.30V440.10M424.38 379.30V440.10M434.44 379.30V440.10M444.51 379.30V440.10M454.57 379.30V440.10M379.10 435.03H459.60M379.10 424.90H459.60M379.10 414.77H459.60M379.10 404.63H459.60M379.10 394.50H459.60M379.10 384.37H459.60" stroke="#e2e2e2" stroke-width="0.6" stroke-dasharray="0.8 0.8" fill="none"/>
<path d="M389.16 379.30V440.10M399.23 379.30V440.10M409.29 379.30V440.10M419.35 379.30V440.10M429.41 379.30V440.10M439.48 379.30V440.10M449.54 379.30V440.10M379.10 429.97H459.60M379.10 419.83H459.60M379.10 409.70H459.60M379.10 399.57H459.60M379.10 389.43H459.60" stroke="#dadada" stroke-width="0.7" fill="none"/>
<polyline points="379.4,419.9 380.1,420.5 380.8,422.2 381.5,424.0 382.2,425.7 382.9,427.5 383.6,429.2 384.4,430.9 385.2,426.9 385.9,421.1 386.6,418.1 387.3,416.4 388.0,415.2 388.7,417.6 389.4,414.1 390.1,408.3 390.8,401.3 391.5,395.5 391.9,392.0 392.4,390.8 392.9,393.1 393.6,398.9 394.3,405.9 395.0,412.9 395.7,418.1 396.1,415.2 396.6,409.4 397.3,404.8 398.0,407.1 398.7,411.2 399.4,415.2 400.1,418.7 400.8,421.1 401.5,422.2 402.4,422.8 403.3,423.4 404.0,421.6 404.7,417.6 405.4,423.4 406.1,428.0 406.8,429.2 407.5,425.7 408.2,421.1 408.9,418.7 409.6,417.6 410.3,419.3 411.0,418.7 411.7,412.9 412.4,405.9 413.1,397.8 413.8,394.9 414.5,394.3 415.2,396.0 415.9,402.4 416.6,409.4 417.3,417.6 418.0,424.5 418.7,422.2 419.4,407.1 419.5,405.8 419.5,400.3 419.7,401.3 420.3,410.6 421.0,419.9 421.7,424.5 422.4,426.9 423.1,428.0 423.8,428.0 424.5,423.4 425.2,417.6 425.9,411.7 426.6,405.9 427.3,404.2 428.0,409.4 428.7,422.2 429.2,428.0 429.6,424.5 430.3,415.2 431.0,408.3 431.7,403.6 432.4,402.4 433.1,407.1 433.8,416.4 434.5,423.4 435.2,415.2 435.9,402.4 436.6,395.5 437.3,398.9 438.0,410.6 438.7,422.2 439.4,428.6 440.1,424.5 440.8,419.9 441.5,418.1 442.4,418.7 443.3,419.9 444.3,421.1 445.2,421.6 446.1,420.5 447.1,419.3 448.0,418.7 448.9,417.0 449.6,419.3 450.5,421.1 451.5,421.6 452.4,419.9 453.3,416.4 454.3,411.7 455.2,405.9 456.1,401.3 457.0,398.4 457.7,395.5 458.4,390.8 459.1,385.0 459.6,383.2" stroke="#1580D2" stroke-width="1.3" fill="none" stroke-linejoin="round" clip-path="url(#ce3)"/>
<polyline points="379.4,424.0 380.1,425.1 380.8,426.9 381.5,427.5 382.2,428.0 382.9,429.2 383.6,430.4 384.4,430.9 385.2,426.9 385.9,422.2 386.6,418.7 387.3,419.9 388.0,421.1 388.7,422.2 389.4,416.4 390.1,409.4 390.8,402.4 391.5,397.2 391.9,394.3 392.4,393.1 392.9,395.5 393.6,401.3 394.3,408.3 395.0,415.2 395.7,421.1 396.4,422.2 397.1,416.4 397.8,411.2 398.5,409.4 399.2,411.7 399.8,415.2 400.5,417.6 401.2,418.1 401.9,419.3 402.6,419.9 403.3,421.1 404.0,418.7 404.7,417.6 405.4,422.2 406.1,426.9 406.8,429.2 407.5,426.9 408.2,422.2 408.9,417.6 409.6,416.4 410.3,418.1 411.0,417.6 411.7,411.7 412.4,405.9 413.1,401.3 413.8,399.5 414.5,398.9 415.2,400.7 415.9,405.9 416.6,411.7 417.3,418.7 418.0,424.5 418.7,425.7 419.4,422.2 419.5,422.0 419.5,421.2 420.1,422.2 420.8,424.0 421.5,425.7 422.2,427.5 422.9,428.6 423.6,428.0 424.3,424.5 425.0,421.1 425.7,419.9 426.4,420.5 427.1,419.3 427.8,418.1 428.5,419.3 429.2,416.4 429.9,408.3 430.6,398.9 431.2,392.0 431.9,390.8 432.6,394.3 433.3,401.3 434.0,412.9 434.7,425.7 435.4,428.0 436.1,422.2 436.8,415.2 437.5,411.7 438.2,411.2 438.9,412.9 439.6,415.2 440.3,417.6 441.0,419.9 441.9,421.6 442.9,422.2 443.8,422.8 444.7,422.2 445.7,421.6 446.6,420.5 447.5,419.7 448.4,419.9 449.4,421.1 450.3,422.8 451.2,424.0 452.2,423.4 453.1,421.1 454.0,417.6 455.0,414.1 455.9,412.9 456.8,414.1 457.7,415.2 458.7,415.8 459.4,416.4" stroke="#F05A1E" stroke-width="1.3" fill="none" stroke-linejoin="round" clip-path="url(#ce3)"/>
<path d="M379.10 440.10h1.3M459.60 440.10h-1.3M379.10 419.83h1.3M459.60 419.83h-1.3M379.10 399.57h1.3M459.60 399.57h-1.3M379.10 379.30h1.3M459.60 379.30h-1.3M379.10 440.10v-1.3M379.10 379.30v1.3M419.35 440.10v-1.3M419.35 379.30v1.3M459.60 440.10v-1.3M459.60 379.30v1.3" stroke="#262626" stroke-width="0.8" fill="none"/>
<rect x="379.1" y="379.30" width="80.5" height="60.8" fill="none" stroke="#262626" stroke-width="0.8"/>
<text x="375.90" y="442.35" font-size="8.2" fill="#262626" text-anchor="end">20</text>
<text x="375.90" y="422.08" font-size="8.2" fill="#262626" text-anchor="end">30</text>
<text x="375.90" y="401.82" font-size="8.2" fill="#262626" text-anchor="end">40</text>
<text x="375.90" y="381.55" font-size="8.2" fill="#262626" text-anchor="end">50</text>
<text transform="translate(362.98,409.70) rotate(-90)" font-size="8.75" fill="#262626" text-anchor="middle">mmHg</text>
<path d="M47.53 464.30V525.10M57.59 464.30V525.10M67.66 464.30V525.10M77.72 464.30V525.10M87.78 464.30V525.10M97.84 464.30V525.10M107.91 464.30V525.10M117.97 464.30V525.10M42.50 521.30H123.00M42.50 513.70H123.00M42.50 506.10H123.00M42.50 498.50H123.00M42.50 490.90H123.00M42.50 483.30H123.00M42.50 475.70H123.00M42.50 468.10H123.00" stroke="#e2e2e2" stroke-width="0.6" stroke-dasharray="0.8 0.8" fill="none"/>
<path d="M52.56 464.30V525.10M62.62 464.30V525.10M72.69 464.30V525.10M82.75 464.30V525.10M92.81 464.30V525.10M102.88 464.30V525.10M112.94 464.30V525.10M42.50 517.50H123.00M42.50 509.90H123.00M42.50 502.30H123.00M42.50 494.70H123.00M42.50 487.10H123.00M42.50 479.50H123.00M42.50 471.90H123.00" stroke="#dadada" stroke-width="0.7" fill="none"/>
<polyline points="42.4,494.3 43.9,494.3 45.4,494.3 46.1,492.3 46.6,479.5 46.9,474.2 47.3,480.6 47.5,494.6 47.7,498.7 48.2,498.1 49.1,496.9 50.3,495.7 52.0,495.5 53.8,495.2 55.5,494.8 57.0,494.0 58.2,492.8 59.0,492.3 59.8,493.2 61.0,493.7 62.5,493.4 64.2,493.4 65.6,493.2 66.6,492.3 67.1,486.4 67.5,482.4 68.0,487.6 68.3,499.2 68.7,504.5 69.1,500.4 69.8,495.7 70.8,494.6 71.8,493.7 73.3,492.8 74.7,492.0 75.6,491.7 76.8,492.3 78.2,493.2 79.9,493.4 81.7,493.4 83.0,493.3 83.0,493.3 83.7,493.4 85.5,493.2 87.2,492.5 88.0,493.4 89.0,494.0 90.4,494.3 91.9,494.3 93.0,494.0 93.6,492.3 94.0,482.9 94.3,476.0 94.7,482.9 95.0,496.9 95.5,497.5 96.4,496.3 97.7,495.5 99.4,495.2 101.2,494.8 102.9,494.6 105.2,494.3 107.6,494.0 109.9,493.7 112.0,493.4 113.4,493.2 114.5,492.0 115.5,490.5 115.9,489.7 116.4,494.6 116.9,503.9 117.3,513.2 117.8,510.9 118.5,502.7 119.4,496.9 120.4,493.4 121.5,491.1 122.4,489.3 122.9,488.5" stroke="#1580D2" stroke-width="1.3" fill="none" stroke-linejoin="round" clip-path="url(#cf0)"/>
<path d="M42.50 525.10h1.3M123.00 525.10h-1.3M42.50 509.90h1.3M123.00 509.90h-1.3M42.50 494.70h1.3M123.00 494.70h-1.3M42.50 479.50h1.3M123.00 479.50h-1.3M42.50 464.30h1.3M123.00 464.30h-1.3M42.50 525.10v-1.3M42.50 464.30v1.3M82.75 525.10v-1.3M82.75 464.30v1.3M123.00 525.10v-1.3M123.00 464.30v1.3" stroke="#262626" stroke-width="0.8" fill="none"/>
<rect x="42.5" y="464.30" width="80.5" height="60.8" fill="none" stroke="#262626" stroke-width="0.8"/>
<text x="39.30" y="527.35" font-size="8.2" fill="#262626" text-anchor="end">-2</text>
<text x="39.30" y="512.15" font-size="8.2" fill="#262626" text-anchor="end">-1</text>
<text x="39.30" y="496.95" font-size="8.2" fill="#262626" text-anchor="end">0</text>
<text x="39.30" y="481.75" font-size="8.2" fill="#262626" text-anchor="end">1</text>
<text x="39.30" y="466.55" font-size="8.2" fill="#262626" text-anchor="end">2</text>
<text transform="translate(19.21,494.70) rotate(-90)" font-size="9" fill="#262626" text-anchor="middle">(f)</text>
<text transform="translate(28.21,494.70) rotate(-90)" font-size="9" fill="#262626" text-anchor="middle">mV</text>
<text x="42.50" y="533.90" font-size="8.2" fill="#262626" text-anchor="middle">0</text>
<text x="82.75" y="533.90" font-size="8.2" fill="#262626" text-anchor="middle">1</text>
<text x="123.00" y="533.90" font-size="8.2" fill="#262626" text-anchor="middle">2</text>
<text x="82.75" y="543.60" font-size="9" fill="#262626" text-anchor="middle">Second</text>
<path d="M159.53 464.30V525.10M169.59 464.30V525.10M179.66 464.30V525.10M189.72 464.30V525.10M199.78 464.30V525.10M209.84 464.30V525.10M219.91 464.30V525.10M229.97 464.30V525.10M154.50 517.50H235.00M154.50 502.30H235.00M154.50 487.10H235.00M154.50 471.90H235.00" stroke="#e2e2e2" stroke-width="0.6" stroke-dasharray="0.8 0.8" fill="none"/>
<path d="M164.56 464.30V525.10M174.62 464.30V525.10M184.69 464.30V525.10M194.75 464.30V525.10M204.81 464.30V525.10M214.88 464.30V525.10M224.94 464.30V525.10M154.50 509.90H235.00M154.50 494.70H235.00M154.50 479.50H235.00" stroke="#dadada" stroke-width="0.7" fill="none"/>
<polyline points="154.4,509.1 155.3,509.7 156.5,510.3 157.6,510.6 158.8,510.6 160.0,510.9 161.1,511.1 162.3,510.9 163.0,506.2 163.5,496.9 164.0,492.8 164.9,491.7 165.6,489.3 166.2,484.1 166.9,479.5 167.6,476.5 168.6,475.4 169.5,476.0 170.4,478.3 171.1,481.8 171.8,484.1 172.8,485.9 173.7,487.6 174.8,489.9 176.0,492.3 177.4,494.6 178.8,496.3 180.3,498.1 181.8,499.5 183.0,500.2 183.9,500.4 184.6,498.1 185.3,492.3 186.0,488.2 186.7,485.3 187.4,481.8 188.1,480.0 189.0,479.7 190.0,480.6 190.7,482.9 191.4,486.4 192.0,488.8 193.0,489.9 193.9,491.1 194.8,492.5 195.0,492.8 195.0,494.7 195.9,496.7 197.0,498.1 198.2,499.2 199.3,500.4 200.5,501.6 201.7,502.7 202.8,503.9 204.0,504.8 205.2,505.6 206.3,506.0 207.5,506.2 208.6,506.5 209.8,506.5 210.5,505.6 211.0,496.9 211.4,488.2 212.1,486.4 212.8,485.3 213.5,480.6 214.2,474.8 214.9,470.7 215.6,470.1 216.3,471.3 217.0,471.9 217.7,472.5 218.4,474.8 219.1,478.3 219.8,481.8 220.7,485.3 221.9,488.8 223.1,491.7 224.4,494.6 225.8,496.9 227.2,498.7 228.6,499.8 230.0,501.0 231.4,501.8 232.8,502.5 234.1,503.0 234.7,496.9 235.1,489.9" stroke="#1580D2" stroke-width="1.3" fill="none" stroke-linejoin="round" clip-path="url(#cf1)"/>
<polyline points="154.3,520.2 154.6,510.9 155.1,505.1 155.6,503.7 156.0,504.1 156.7,506.2 157.4,508.5 158.3,509.7 159.3,508.5 160.0,509.7 160.7,510.9 161.4,514.4 162.3,517.9 163.2,519.6 164.2,518.4 165.1,514.4 165.8,508.5 166.5,500.4 167.2,493.4 168.1,489.9 169.0,488.2 170.0,488.2 170.9,490.5 171.8,494.6 172.8,499.2 173.7,503.9 174.6,508.0 175.5,510.9 176.5,511.5 177.4,509.7 178.3,506.2 179.3,502.7 180.2,501.8 180.9,503.3 181.6,506.8 182.3,510.9 183.0,515.5 183.7,519.0 184.4,520.2 185.3,519.0 186.2,515.5 187.2,508.5 188.1,499.2 189.0,494.0 190.0,491.7 190.9,489.9 191.8,489.0 192.7,489.0 193.7,490.5 194.6,493.4 195.0,494.7 195.0,494.9 195.4,496.9 196.3,500.4 197.3,502.7 198.2,504.5 198.9,506.2 199.6,507.4 200.0,501.6 200.7,496.9 201.4,496.3 202.4,498.1 203.3,500.4 204.2,503.3 205.2,505.1 205.9,503.9 206.6,502.7 207.2,505.1 207.9,506.2 208.6,508.5 209.3,510.9 210.3,513.2 211.0,515.5 211.7,514.4 212.4,510.9 213.1,505.1 213.8,498.1 214.5,492.3 215.2,487.6 215.8,484.7 216.5,482.4 217.2,481.2 217.9,480.0 218.6,480.0 219.3,482.4 220.0,485.3 221.0,488.8 221.9,491.7 223.1,494.6 224.2,497.5 225.4,500.4 226.5,503.3 227.7,506.2 228.6,508.5 229.6,510.9 230.5,512.3 231.7,513.2 232.8,513.8 233.7,514.4 234.7,515.5 235.3,516.1" stroke="#F05A1E" stroke-width="1.3" fill="none" stroke-linejoin="round" clip-path="url(#cf1)"/>
<path d="M154.50 525.10h1.3M235.00 525.10h-1.3M154.50 494.70h1.3M235.00 494.70h-1.3M154.50 464.30h1.3M235.00 464.30h-1.3M154.50 525.10v-1.3M154.50 464.30v1.3M194.75 525.10v-1.3M194.75 464.30v1.3M235.00 525.10v-1.3M235.00 464.30v1.3" stroke="#262626" stroke-width="0.8" fill="none"/>
<rect x="154.5" y="464.30" width="80.5" height="60.8" fill="none" stroke="#262626" stroke-width="0.8"/>
<text x="151.30" y="527.35" font-size="8.2" fill="#262626" text-anchor="end">50</text>
<text x="151.30" y="496.95" font-size="8.2" fill="#262626" text-anchor="end">100</text>
<text x="151.30" y="466.55" font-size="8.2" fill="#262626" text-anchor="end">150</text>
<text transform="translate(133.82,494.70) rotate(-90)" font-size="8.75" fill="#262626" text-anchor="middle">mmHg</text>
<text x="154.50" y="533.90" font-size="8.2" fill="#262626" text-anchor="middle">0</text>
<text x="194.75" y="533.90" font-size="8.2" fill="#262626" text-anchor="middle">1</text>
<text x="235.00" y="533.90" font-size="8.2" fill="#262626" text-anchor="middle">2</text>
<text x="194.75" y="543.60" font-size="9" fill="#262626" text-anchor="middle">Second</text>
<path d="M271.63 464.30V525.10M281.69 464.30V525.10M291.76 464.30V525.10M301.82 464.30V525.10M311.88 464.30V525.10M321.94 464.30V525.10M332.01 464.30V525.10M342.07 464.30V525.10M266.60 520.03H347.10M266.60 509.90H347.10M266.60 499.77H347.10M266.60 489.63H347.10M266.60 479.50H347.10M266.60 469.37H347.10" stroke="#e2e2e2" stroke-width="0.6" stroke-dasharray="0.8 0.8" fill="none"/>
<path d="M276.66 464.30V525.10M286.73 464.30V525.10M296.79 464.30V525.10M306.85 464.30V525.10M316.91 464.30V525.10M326.98 464.30V525.10M337.04 464.30V525.10M266.60 514.97H347.10M266.60 504.83H347.10M266.60 494.70H347.10M266.60 484.57H347.10M266.60 474.43H347.10" stroke="#dadada" stroke-width="0.7" fill="none"/>
<polyline points="266.4,486.4 267.1,482.4 268.0,479.5 269.0,477.7 269.9,476.5 270.8,475.4 271.7,474.8 272.7,472.5 273.6,469.6 274.3,468.4 275.0,470.1 275.7,474.8 276.4,480.6 277.1,485.3 277.8,488.2 278.7,489.9 279.6,491.1 280.6,491.7 281.3,489.9 282.0,486.4 282.7,483.5 283.6,482.4 284.5,481.8 285.5,480.6 286.4,478.9 287.3,476.5 288.0,476.0 288.9,477.7 289.9,479.5 290.8,481.2 291.7,482.9 292.7,484.7 293.6,485.9 294.5,486.4 295.4,487.0 296.4,487.0 297.3,486.7 298.2,487.4 299.2,487.0 300.1,486.7 301.0,486.4 302.0,484.7 302.9,482.7 303.8,482.4 304.7,483.2 305.7,483.5 306.8,483.9 307.0,483.9 307.0,484.0 307.2,484.1 308.3,485.0 309.5,485.3 310.6,485.9 311.8,485.9 313.0,485.0 314.1,484.1 315.3,481.8 316.2,478.9 317.2,477.1 318.1,478.3 319.0,480.0 319.9,481.2 320.9,481.5 321.8,481.8 322.7,482.4 323.7,484.7 324.6,487.0 325.5,488.8 326.5,489.9 327.4,490.9 328.3,491.7 329.2,492.3 330.2,492.0 331.1,491.1 332.0,490.5 333.0,491.1 333.9,492.5 335.1,494.0 336.2,495.2 337.4,496.0 338.5,496.3 339.7,495.7 340.9,494.6 341.8,492.3 342.5,488.8 343.2,484.7 343.9,481.8 344.6,481.2 345.3,482.4 346.0,482.9 346.7,482.4 347.3,481.2" stroke="#1580D2" stroke-width="1.3" fill="none" stroke-linejoin="round" clip-path="url(#cf2)"/>
<polyline points="266.4,495.7 266.9,491.1 267.3,487.6 268.0,484.7 268.7,484.1 269.4,485.9 270.1,488.8 270.8,492.3 271.7,494.6 272.7,494.6 273.6,494.0 274.5,491.7 275.5,488.8 276.4,486.4 277.1,484.7 277.8,486.4 278.5,488.8 279.4,489.9 280.3,489.7 281.3,489.9 282.2,491.1 283.1,492.3 284.1,491.1 285.0,489.9 285.9,489.3 286.8,487.6 287.8,484.7 288.7,481.8 289.6,479.5 290.6,481.2 291.5,482.9 292.4,485.3 293.4,489.9 294.1,495.7 294.8,501.0 295.7,501.6 296.6,500.4 297.5,501.6 298.5,503.3 299.2,500.4 299.9,496.9 300.8,495.7 301.7,495.2 302.7,493.4 303.6,493.2 304.5,492.3 305.4,490.5 306.4,488.8 307.0,487.2 307.0,486.2 307.2,485.9 308.1,486.4 309.0,487.0 310.0,486.2 310.9,487.0 311.8,488.2 312.7,488.8 313.7,486.4 314.6,484.1 315.5,481.2 316.5,477.7 317.2,476.5 317.9,477.7 318.6,481.2 319.2,485.3 319.9,488.8 320.9,489.9 321.8,489.3 322.7,490.5 323.7,491.1 324.6,489.9 325.5,489.3 326.5,490.5 327.4,491.7 328.3,490.5 329.2,488.8 330.2,487.0 331.1,486.4 332.0,486.4 333.0,487.6 333.9,490.5 334.8,493.4 335.8,495.7 336.7,498.1 337.6,501.6 338.5,506.2 339.5,509.1 340.2,507.4 340.9,501.6 341.6,495.7 342.3,492.3 343.0,494.0 343.7,496.3 344.4,495.7 345.0,494.0 345.7,491.1 346.7,485.3 347.3,481.2" stroke="#F05A1E" stroke-width="1.3" fill="none" stroke-linejoin="round" clip-path="url(#cf2)"/>
<path d="M266.60 525.10h1.3M347.10 525.10h-1.3M266.60 504.83h1.3M347.10 504.83h-1.3M266.60 484.57h1.3M347.10 484.57h-1.3M266.60 464.30h1.3M347.10 464.30h-1.3M266.60 525.10v-1.3M266.60 464.30v1.3M306.85 525.10v-1.3M306.85 464.30v1.3M347.10 525.10v-1.3M347.10 464.30v1.3" stroke="#262626" stroke-width="0.8" fill="none"/>
<rect x="266.6" y="464.30" width="80.5" height="60.8" fill="none" stroke="#262626" stroke-width="0.8"/>
<text x="263.40" y="527.35" font-size="8.2" fill="#262626" text-anchor="end">-10</text>
<text x="263.40" y="507.08" font-size="8.2" fill="#262626" text-anchor="end">0</text>
<text x="263.40" y="486.82" font-size="8.2" fill="#262626" text-anchor="end">10</text>
<text x="263.40" y="466.55" font-size="8.2" fill="#262626" text-anchor="end">20</text>
<text transform="translate(247.75,494.70) rotate(-90)" font-size="8.75" fill="#262626" text-anchor="middle">mmHg</text>
<text x="266.60" y="533.90" font-size="8.2" fill="#262626" text-anchor="middle">0</text>
<text x="306.85" y="533.90" font-size="8.2" fill="#262626" text-anchor="middle">1</text>
<text x="347.10" y="533.90" font-size="8.2" fill="#262626" text-anchor="middle">2</text>
<text x="306.85" y="543.60" font-size="9" fill="#262626" text-anchor="middle">Second</text>
<path d="M384.13 464.30V525.10M394.19 464.30V525.10M404.26 464.30V525.10M414.32 464.30V525.10M424.38 464.30V525.10M434.44 464.30V525.10M444.51 464.30V525.10M454.57 464.30V525.10M379.10 520.03H459.60M379.10 509.90H459.60M379.10 499.77H459.60M379.10 489.63H459.60M379.10 479.50H459.60M379.10 469.37H459.60" stroke="#e2e2e2" stroke-width="0.6" stroke-dasharray="0.8 0.8" fill="none"/>
<path d="M389.16 464.30V525.10M399.23 464.30V525.10M409.29 464.30V525.10M419.35 464.30V525.10M429.41 464.30V525.10M439.48 464.30V525.10M449.54 464.30V525.10M379.10 514.97H459.60M379.10 504.83H459.60M379.10 494.70H459.60M379.10 484.57H459.60M379.10 474.43H459.60" stroke="#dadada" stroke-width="0.7" fill="none"/>
<polyline points="379.4,509.7 380.3,510.9 381.3,510.9 382.2,510.3 383.1,508.5 384.0,506.2 385.0,502.1 385.9,497.5 386.8,495.2 387.8,493.4 388.5,488.8 389.0,494.6 389.6,501.6 390.1,502.7 390.8,494.6 391.5,486.4 392.2,481.8 392.9,480.0 393.6,481.2 394.3,484.7 395.0,487.6 395.7,489.3 396.4,490.5 397.1,492.3 397.8,494.6 398.5,496.9 399.2,497.5 399.8,495.7 400.5,489.9 401.2,481.8 401.8,478.3 402.4,480.6 402.9,487.6 403.6,496.9 404.3,500.4 405.0,502.1 405.7,499.2 406.4,496.9 407.1,495.2 407.8,493.4 408.4,492.3 409.1,491.7 409.8,493.4 410.5,495.7 411.2,498.1 411.9,499.2 412.6,496.9 413.3,493.4 414.0,491.1 414.7,489.3 415.4,488.2 416.1,489.9 416.8,493.4 417.5,495.7 418.2,496.9 418.9,496.9 419.5,497.6 419.5,499.0 419.9,499.2 420.8,498.7 421.7,499.0 422.6,499.2 423.6,500.4 424.5,501.6 425.4,499.2 426.4,498.1 427.3,499.8 428.2,502.1 429.2,502.7 430.1,501.6 431.0,500.4 431.9,499.8 432.9,499.2 433.8,498.7 434.7,496.9 435.4,496.3 436.1,499.2 436.6,502.1 437.3,498.1 438.0,495.2 438.7,492.8 439.4,490.5 440.1,489.3 440.8,489.7 441.5,491.1 442.2,493.4 442.9,496.9 443.6,500.4 444.3,503.3 445.0,505.6 445.7,506.8 446.4,506.2 447.1,504.5 447.8,501.6 448.4,498.7 449.1,498.1 449.8,500.4 450.5,503.9 451.2,506.8 451.9,508.0 452.9,508.5 454.0,509.1 455.2,509.9 456.4,510.9 457.3,510.3 458.0,508.5 458.7,506.2 459.3,505.1" stroke="#1580D2" stroke-width="1.3" fill="none" stroke-linejoin="round" clip-path="url(#cf3)"/>
<polyline points="379.4,510.3 380.1,508.0 380.8,505.6 381.7,503.9 382.6,503.3 383.6,505.1 384.5,506.8 385.2,508.0 385.9,510.9 386.6,513.2 387.3,512.6 388.0,509.7 388.7,508.0 389.4,508.5 390.1,507.4 390.8,505.1 391.5,502.7 392.2,501.6 392.9,501.0 393.6,500.2 394.3,500.4 395.2,502.1 396.1,503.7 397.1,504.1 398.0,505.1 398.9,506.0 399.8,506.8 400.8,508.0 401.5,508.3 402.2,506.8 402.9,503.9 403.6,502.1 404.3,504.5 405.0,508.5 405.7,512.0 406.4,510.9 407.1,509.7 407.8,509.1 408.4,510.9 409.1,512.0 409.8,510.3 410.5,508.5 411.2,506.2 411.9,501.6 412.6,497.5 413.3,495.2 414.0,494.0 414.7,493.7 415.4,494.0 416.1,494.6 416.8,495.7 417.5,496.7 418.2,498.1 418.9,498.7 419.5,498.4 419.5,498.1 419.9,498.3 420.8,498.7 421.7,499.0 422.6,499.2 423.6,500.4 424.5,502.7 425.4,504.5 426.4,506.0 427.3,506.2 428.2,504.5 429.2,502.7 430.1,501.0 431.0,500.4 431.9,501.6 432.9,503.9 433.8,506.8 434.7,509.1 435.4,509.7 436.1,508.5 436.8,506.2 437.5,503.9 438.2,502.1 438.9,501.6 439.6,500.4 440.3,499.8 441.0,499.8 441.7,500.2 442.4,501.0 443.1,502.1 443.8,503.3 444.5,504.5 445.4,505.6 446.4,506.2 447.3,506.0 448.2,506.0 449.1,506.8 450.1,508.5 451.0,510.9 451.9,513.2 452.9,514.9 453.6,513.8 454.3,512.0 455.0,510.3 455.7,510.9 456.4,512.0 457.0,511.5 457.7,508.5 458.4,505.1 458.9,501.6 459.3,496.9" stroke="#F05A1E" stroke-width="1.3" fill="none" stroke-linejoin="round" clip-path="url(#cf3)"/>
<path d="M379.10 525.10h1.3M459.60 525.10h-1.3M379.10 504.83h1.3M459.60 504.83h-1.3M379.10 484.57h1.3M459.60 484.57h-1.3M379.10 464.30h1.3M459.60 464.30h-1.3M379.10 525.10v-1.3M379.10 464.30v1.3M419.35 525.10v-1.3M419.35 464.30v1.3M459.60 525.10v-1.3M459.60 464.30v1.3" stroke="#262626" stroke-width="0.8" fill="none"/>
<rect x="379.1" y="464.30" width="80.5" height="60.8" fill="none" stroke="#262626" stroke-width="0.8"/>
<text x="375.90" y="527.35" font-size="8.2" fill="#262626" text-anchor="end">0</text>
<text x="375.90" y="507.08" font-size="8.2" fill="#262626" text-anchor="end">20</text>
<text x="375.90" y="486.82" font-size="8.2" fill="#262626" text-anchor="end">40</text>
<text x="375.90" y="466.55" font-size="8.2" fill="#262626" text-anchor="end">60</text>
<text transform="translate(362.98,494.70) rotate(-90)" font-size="8.75" fill="#262626" text-anchor="middle">mmHg</text>
<text x="379.10" y="533.90" font-size="8.2" fill="#262626" text-anchor="middle">0</text>
<text x="419.35" y="533.90" font-size="8.2" fill="#262626" text-anchor="middle">1</text>
<text x="459.60" y="533.90" font-size="8.2" fill="#262626" text-anchor="middle">2</text>
<text x="419.35" y="543.60" font-size="9" fill="#262626" text-anchor="middle">Second</text>
<rect x="398.6" y="5.5" width="68" height="17.8" fill="#fff" stroke="#262626" stroke-width="0.8"/>
<line x1="403" y1="10.8" x2="428" y2="10.8" stroke="#1580D2" stroke-width="1"/>
<line x1="403" y1="18" x2="428" y2="18" stroke="#F05A1E" stroke-width="1"/>
<text x="430.5" y="12.6" font-size="7.3" fill="#000">Reference</text>
<text x="430.5" y="20" font-size="7.3" fill="#000">Predicted</text>
</svg>
</body></html>
